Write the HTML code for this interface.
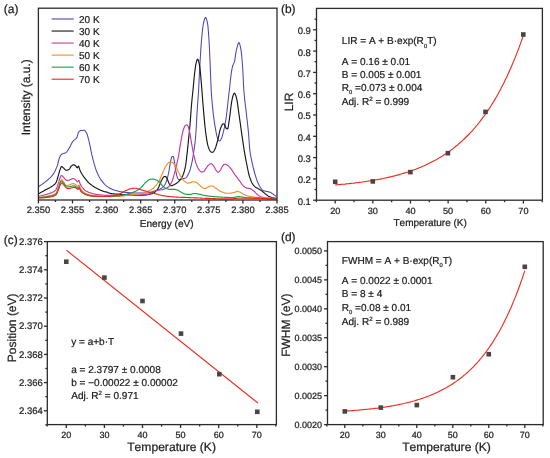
<!DOCTYPE html>
<html lang="en"><head><meta charset="utf-8"><title>Figure</title>
<style>
html,body{margin:0;padding:0;background:#fff;}
body{width:550px;height:458px;overflow:hidden;}
svg{display:block;}
svg text{font-family:"Liberation Sans", Arial, sans-serif;fill:#1c1c1c;text-rendering:geometricPrecision;font-kerning:none;stroke:#1c1c1c;stroke-width:0.22px;}
</style></head><body>
<svg width="550" height="458" viewBox="0 0 550 458">
<rect x="0" y="0" width="550" height="458" fill="#ffffff"/>
<g id="pa">
<clipPath id="ca"><rect x="38.4" y="8.2" width="238.6" height="191.8"/></clipPath>
<g clip-path="url(#ca)">
<polyline points="38.4,186.7 38.8,186.5 39.2,186.2 39.6,186.0 40.0,185.7 40.4,185.5 40.8,185.2 41.2,184.9 41.6,184.7 42.0,184.4 42.4,184.1 42.8,183.8 43.2,183.5 43.6,183.2 44.0,182.9 44.4,182.6 44.8,182.3 45.2,182.0 45.6,181.6 46.0,181.3 46.4,181.0 46.8,180.6 47.2,180.3 47.6,180.0 48.0,179.6 48.4,179.3 48.8,179.0 49.2,178.6 49.6,178.2 50.0,177.9 50.4,177.5 50.8,177.1 51.2,176.6 51.6,176.2 52.0,175.7 52.4,175.2 52.8,174.7 53.2,174.2 53.6,173.6 54.0,172.9 54.4,172.2 54.8,171.5 55.2,170.7 55.6,169.8 56.0,168.9 56.4,168.0 56.8,167.0 57.2,165.9 57.6,164.6 58.0,163.1 58.4,161.5 58.8,160.0 59.2,158.5 59.6,157.4 60.0,156.6 60.4,155.8 60.8,155.2 61.2,154.6 61.6,154.3 62.0,154.0 62.4,153.9 62.8,153.7 63.2,153.6 63.6,153.5 64.0,153.4 64.4,153.3 64.8,153.2 65.2,153.0 65.6,152.9 66.0,152.6 66.4,152.2 66.8,151.8 67.2,151.2 67.6,150.6 68.0,150.0 68.4,149.3 68.8,148.7 69.2,148.0 69.6,147.4 70.0,146.6 70.4,145.9 70.8,145.1 71.2,144.3 71.6,143.5 72.0,142.8 72.4,142.1 72.8,141.5 73.2,141.0 73.6,140.6 74.0,140.2 74.4,139.9 74.8,139.6 75.2,139.4 75.6,139.1 76.0,138.7 76.4,138.2 76.8,137.7 77.2,136.7 77.6,135.2 78.0,133.6 78.4,132.4 78.8,131.9 79.2,131.5 79.6,131.2 80.0,130.9 80.4,130.7 80.8,130.6 81.2,130.5 81.6,130.5 82.0,130.4 82.4,130.4 82.8,130.3 83.2,130.3 83.6,130.3 84.0,130.3 84.4,130.3 84.8,130.5 85.2,130.9 85.6,131.5 86.0,132.1 86.4,132.8 86.8,133.5 87.2,134.5 87.6,135.8 88.0,137.3 88.4,138.8 88.8,140.5 89.2,142.1 89.6,143.8 90.0,145.7 90.4,147.6 90.8,149.6 91.2,151.6 91.6,153.6 92.0,155.4 92.4,157.0 92.8,158.6 93.2,160.2 93.6,161.7 94.0,163.2 94.4,164.7 94.8,166.0 95.2,167.3 95.6,168.5 96.0,169.7 96.4,170.7 96.8,171.7 97.2,172.7 97.6,173.6 98.0,174.5 98.4,175.3 98.8,176.1 99.2,176.9 99.6,177.6 100.0,178.3 100.4,179.0 100.8,179.6 101.2,180.2 101.6,180.7 102.0,181.2 102.4,181.7 102.8,182.2 103.2,182.7 103.6,183.2 104.0,183.6 104.4,184.0 104.8,184.5 105.2,184.9 105.6,185.2 106.0,185.6 106.4,185.9 106.8,186.3 107.2,186.6 107.6,186.8 108.0,187.1 108.4,187.4 108.8,187.6 109.2,187.8 109.6,188.0 110.0,188.3 110.4,188.5 110.8,188.7 111.2,188.8 111.6,189.0 112.0,189.2 112.4,189.4 112.8,189.5 113.2,189.7 113.6,189.8 114.0,190.0 114.4,190.1 114.8,190.3 115.2,190.4 115.6,190.5 116.0,190.6 116.4,190.7 116.8,190.8 117.2,190.9 117.6,191.0 118.0,191.1 118.4,191.2 118.8,191.3 119.2,191.4 119.6,191.5 120.0,191.6 120.4,191.7 120.8,191.8 121.2,191.8 121.6,191.9 122.0,192.0 122.4,192.1 122.8,192.1 123.2,192.2 123.6,192.2 124.0,192.3 124.4,192.3 124.8,192.3 125.2,192.4 125.6,192.4 126.0,192.4 126.4,192.5 126.8,192.5 127.2,192.6 127.6,192.6 128.0,192.6 128.4,192.6 128.8,192.7 129.2,192.7 129.6,192.7 130.0,192.8 130.4,192.8 130.8,192.8 131.2,192.8 131.6,192.9 132.0,192.9 132.4,192.9 132.8,192.9 133.2,192.9 133.6,193.0 134.0,193.0 134.4,193.0 134.8,193.0 135.2,193.0 135.6,193.0 136.0,193.0 136.4,193.0 136.8,193.0 137.2,193.0 137.6,193.0 138.0,193.0 138.4,193.0 138.8,193.0 139.2,193.0 139.6,193.0 140.0,193.0 140.4,193.0 140.8,193.0 141.2,193.0 141.6,193.0 142.0,193.0 142.4,193.0 142.8,193.0 143.2,193.0 143.6,193.0 144.0,193.0 144.4,193.0 144.8,193.0 145.2,193.0 145.6,193.0 146.0,193.0 146.4,193.0 146.8,193.0 147.2,192.9 147.6,192.9 148.0,192.8 148.4,192.8 148.8,192.7 149.2,192.6 149.6,192.5 150.0,192.4 150.4,192.3 150.8,192.2 151.2,192.0 151.6,191.9 152.0,191.8 152.4,191.7 152.8,191.6 153.2,191.4 153.6,191.3 154.0,191.2 154.4,191.1 154.8,191.0 155.2,190.9 155.6,190.8 156.0,190.6 156.4,190.5 156.8,190.4 157.2,190.2 157.6,190.1 158.0,190.0 158.4,189.8 158.8,189.6 159.2,189.5 159.6,189.3 160.0,189.1 160.4,188.9 160.8,188.7 161.2,188.4 161.6,188.2 162.0,187.9 162.4,187.6 162.8,187.2 163.2,186.8 163.6,186.4 164.0,185.9 164.4,185.3 164.8,184.7 165.2,184.0 165.6,183.3 166.0,182.4 166.4,181.3 166.8,180.1 167.2,178.7 167.6,177.2 168.0,175.5 168.4,173.8 168.8,172.0 169.2,169.8 169.6,167.2 170.0,164.5 170.4,162.1 170.8,160.3 171.2,158.6 171.6,157.2 172.0,156.4 172.4,156.4 172.8,156.4 173.2,156.5 173.6,157.2 174.0,159.2 174.4,161.4 174.8,164.3 175.2,167.2 175.6,169.8 176.0,171.9 176.4,173.9 176.8,175.7 177.2,177.0 177.6,177.9 178.0,178.7 178.4,179.3 178.8,179.6 179.2,179.7 179.6,179.6 180.0,179.5 180.4,179.4 180.8,179.2 181.2,179.1 181.6,179.0 182.0,178.9 182.4,178.8 182.8,178.7 183.2,178.6 183.6,178.5 184.0,178.5 184.4,178.4 184.8,178.2 185.2,178.1 185.6,177.9 186.0,177.7 186.4,177.4 186.8,176.9 187.2,176.3 187.6,175.6 188.0,174.8 188.4,174.0 188.8,173.2 189.2,172.3 189.6,171.2 190.0,170.0 190.4,168.7 190.8,167.2 191.2,165.6 191.6,163.9 192.0,162.1 192.4,160.1 192.8,157.8 193.2,155.4 193.6,152.8 194.0,150.1 194.4,147.4 194.8,144.4 195.2,141.0 195.6,136.9 196.0,131.2 196.4,124.3 196.8,117.1 197.2,110.4 197.6,104.6 198.0,99.1 198.4,93.2 198.8,86.4 199.2,78.1 199.6,70.0 200.0,63.0 200.4,56.3 200.8,49.9 201.2,44.1 201.6,39.2 202.0,35.0 202.4,31.1 202.8,27.6 203.2,24.7 203.6,22.5 204.0,20.9 204.4,19.5 204.8,18.3 205.2,17.6 205.6,17.4 206.0,17.8 206.4,18.8 206.8,20.1 207.2,21.7 207.6,23.6 208.0,26.9 208.4,31.7 208.8,37.5 209.2,43.7 209.6,51.8 210.0,61.1 210.4,70.6 210.8,81.1 211.2,90.0 211.6,96.1 212.0,101.2 212.4,105.6 212.8,109.5 213.2,113.1 213.6,116.4 214.0,119.4 214.4,122.2 214.8,124.8 215.2,127.1 215.6,129.4 216.0,131.7 216.4,133.8 216.8,135.7 217.2,137.3 217.6,138.5 218.0,139.3 218.4,139.9 218.8,140.5 219.2,140.9 219.6,141.1 220.0,141.0 220.4,140.5 220.8,139.8 221.2,138.9 221.6,138.0 222.0,137.0 222.4,135.7 222.8,134.3 223.2,132.7 223.6,131.0 224.0,129.3 224.4,127.5 224.8,125.5 225.2,123.4 225.6,121.1 226.0,118.7 226.4,116.0 226.8,112.8 227.2,109.3 227.6,105.5 228.0,101.8 228.4,98.3 228.8,94.9 229.2,91.5 229.6,88.0 230.0,84.0 230.4,80.0 230.8,76.8 231.2,73.9 231.6,71.2 232.0,68.9 232.4,67.0 232.8,65.6 233.2,64.6 233.6,63.8 234.0,62.9 234.4,61.9 234.8,60.2 235.2,57.4 235.6,54.4 236.0,52.2 236.4,50.2 236.8,48.4 237.2,46.9 237.6,45.5 238.0,44.2 238.4,43.1 238.8,42.5 239.2,42.7 239.6,43.6 240.0,45.0 240.4,46.8 240.8,48.7 241.2,51.4 241.6,54.9 242.0,59.3 242.4,64.2 242.8,69.7 243.2,78.0 243.6,86.7 244.0,92.5 244.4,96.8 244.8,100.5 245.2,103.8 245.6,107.0 246.0,110.4 246.4,113.9 246.8,117.3 247.2,120.7 247.6,124.2 248.0,127.9 248.4,132.0 248.8,137.2 249.2,142.8 249.6,147.9 250.0,151.5 250.4,154.2 250.8,156.5 251.2,158.5 251.6,160.3 252.0,162.1 252.4,163.9 252.8,165.7 253.2,167.4 253.6,169.0 254.0,170.5 254.4,172.0 254.8,173.5 255.2,174.8 255.6,176.2 256.0,177.5 256.4,178.7 256.8,179.9 257.2,181.0 257.6,182.0 258.0,182.9 258.4,183.8 258.8,184.6 259.2,185.4 259.6,186.1 260.0,186.8 260.4,187.4 260.8,188.0 261.2,188.5 261.6,189.0 262.0,189.5 262.4,189.9 262.8,190.2 263.2,190.4 263.6,190.6 264.0,190.8 264.4,190.9 264.8,191.0 265.2,191.1 265.6,191.2 266.0,191.3 266.4,191.4 266.8,191.5 267.2,191.6 267.6,191.6 268.0,191.7 268.4,191.8 268.8,191.9 269.2,191.9 269.6,192.0 270.0,192.2 270.4,192.3 270.8,192.5 271.2,192.8 271.6,193.1 272.0,193.3 272.4,193.6 272.8,193.9 273.2,194.2 273.6,194.5 274.0,194.8 274.4,195.1 274.8,195.4 275.2,195.7 275.6,196.0 276.0,196.4 276.4,196.7" fill="none" stroke="#4b43b8" stroke-width="1.05" stroke-linejoin="round"/>
<polyline points="38.4,193.9 38.8,193.7 39.2,193.4 39.6,193.2 40.0,193.0 40.4,192.8 40.8,192.5 41.2,192.3 41.6,192.1 42.0,191.9 42.4,191.6 42.8,191.4 43.2,191.2 43.6,190.9 44.0,190.7 44.4,190.5 44.8,190.3 45.2,190.1 45.6,189.8 46.0,189.6 46.4,189.4 46.8,189.2 47.2,189.0 47.6,188.8 48.0,188.6 48.4,188.4 48.8,188.2 49.2,187.9 49.6,187.7 50.0,187.4 50.4,187.2 50.8,186.9 51.2,186.7 51.6,186.4 52.0,186.2 52.4,185.9 52.8,185.7 53.2,185.4 53.6,185.1 54.0,184.8 54.4,184.5 54.8,184.1 55.2,183.6 55.6,183.2 56.0,182.6 56.4,181.7 56.8,180.6 57.2,179.4 57.6,178.0 58.0,176.6 58.4,175.3 58.8,173.9 59.2,172.5 59.6,171.0 60.0,169.7 60.4,168.7 60.8,167.6 61.2,166.8 61.6,166.6 62.0,166.7 62.4,167.0 62.8,167.3 63.2,167.7 63.6,168.0 64.0,168.4 64.4,168.8 64.8,169.3 65.2,169.7 65.6,170.1 66.0,170.3 66.4,170.3 66.8,170.2 67.2,170.2 67.6,170.0 68.0,169.9 68.4,169.7 68.8,169.4 69.2,169.2 69.6,168.8 70.0,168.2 70.4,167.4 70.8,166.7 71.2,166.2 71.6,165.9 72.0,165.5 72.4,165.2 72.8,165.0 73.2,164.9 73.6,164.8 74.0,164.9 74.4,165.0 74.8,165.2 75.2,165.5 75.6,165.8 76.0,166.2 76.4,166.9 76.8,167.6 77.2,167.9 77.6,167.5 78.0,166.7 78.4,166.1 78.8,166.5 79.2,167.8 79.6,169.2 80.0,170.2 80.4,171.1 80.8,172.0 81.2,172.7 81.6,173.5 82.0,174.2 82.4,174.8 82.8,175.4 83.2,176.0 83.6,176.6 84.0,177.1 84.4,177.6 84.8,178.1 85.2,178.6 85.6,179.1 86.0,179.6 86.4,180.1 86.8,180.6 87.2,181.1 87.6,181.6 88.0,182.0 88.4,182.4 88.8,182.8 89.2,183.2 89.6,183.5 90.0,183.9 90.4,184.2 90.8,184.5 91.2,184.8 91.6,185.1 92.0,185.4 92.4,185.7 92.8,185.9 93.2,186.2 93.6,186.4 94.0,186.7 94.4,187.0 94.8,187.2 95.2,187.4 95.6,187.7 96.0,187.9 96.4,188.1 96.8,188.3 97.2,188.6 97.6,188.8 98.0,189.0 98.4,189.2 98.8,189.4 99.2,189.5 99.6,189.7 100.0,189.9 100.4,190.1 100.8,190.3 101.2,190.5 101.6,190.6 102.0,190.8 102.4,191.0 102.8,191.1 103.2,191.3 103.6,191.4 104.0,191.5 104.4,191.7 104.8,191.7 105.2,191.8 105.6,191.9 106.0,191.9 106.4,192.0 106.8,192.1 107.2,192.2 107.6,192.3 108.0,192.5 108.4,192.9 108.8,193.0 109.2,193.1 109.6,193.2 110.0,193.3 110.4,193.4 110.8,193.5 111.2,193.6 111.6,193.6 112.0,193.7 112.4,193.7 112.8,193.8 113.2,193.8 113.6,193.9 114.0,193.9 114.4,193.9 114.8,194.0 115.2,194.0 115.6,194.0 116.0,194.0 116.4,194.1 116.8,194.1 117.2,194.1 117.6,194.1 118.0,194.2 118.4,194.2 118.8,194.2 119.2,194.2 119.6,194.3 120.0,194.3 120.4,194.3 120.8,194.3 121.2,194.4 121.6,194.4 122.0,194.4 122.4,194.5 122.8,194.5 123.2,194.5 123.6,194.5 124.0,194.6 124.4,194.6 124.8,194.6 125.2,194.7 125.6,194.7 126.0,194.7 126.4,194.7 126.8,194.8 127.2,194.8 127.6,194.8 128.0,194.9 128.4,194.9 128.8,194.9 129.2,194.9 129.6,195.0 130.0,195.0 130.4,195.0 130.8,195.0 131.2,195.0 131.6,195.1 132.0,195.1 132.4,195.1 132.8,195.1 133.2,195.1 133.6,195.2 134.0,195.2 134.4,195.2 134.8,195.2 135.2,195.2 135.6,195.2 136.0,195.2 136.4,195.3 136.8,195.3 137.2,195.3 137.6,195.3 138.0,195.3 138.4,195.3 138.8,195.3 139.2,195.3 139.6,195.3 140.0,195.3 140.4,195.3 140.8,195.3 141.2,195.3 141.6,195.3 142.0,195.2 142.4,195.2 142.8,195.2 143.2,195.2 143.6,195.1 144.0,195.1 144.4,195.1 144.8,195.0 145.2,195.0 145.6,194.9 146.0,194.9 146.4,194.8 146.8,194.8 147.2,194.7 147.6,194.6 148.0,194.6 148.4,194.5 148.8,194.4 149.2,194.4 149.6,194.3 150.0,194.2 150.4,194.1 150.8,194.0 151.2,193.9 151.6,193.8 152.0,193.7 152.4,193.6 152.8,193.5 153.2,193.3 153.6,193.1 154.0,192.8 154.4,192.5 154.8,192.2 155.2,191.8 155.6,191.4 156.0,191.0 156.4,190.6 156.8,190.1 157.2,189.6 157.6,189.1 158.0,188.6 158.4,187.8 158.8,187.0 159.2,186.0 159.6,185.0 160.0,184.0 160.4,183.0 160.8,182.0 161.2,181.1 161.6,180.3 162.0,179.6 162.4,178.8 162.8,178.1 163.2,177.5 163.6,177.0 164.0,176.7 164.4,176.6 164.8,176.5 165.2,176.4 165.6,176.5 166.0,176.9 166.4,177.5 166.8,178.2 167.2,178.9 167.6,179.7 168.0,180.7 168.4,181.8 168.8,182.8 169.2,183.7 169.6,184.3 170.0,184.9 170.4,185.3 170.8,185.6 171.2,185.7 171.6,185.7 172.0,185.6 172.4,185.5 172.8,185.3 173.2,185.1 173.6,184.9 174.0,184.7 174.4,184.5 174.8,184.3 175.2,184.1 175.6,183.9 176.0,183.6 176.4,183.4 176.8,183.1 177.2,182.8 177.6,182.4 178.0,182.1 178.4,181.7 178.8,181.4 179.2,180.9 179.6,180.5 180.0,180.1 180.4,179.6 180.8,179.1 181.2,178.5 181.6,177.9 182.0,177.1 182.4,176.4 182.8,175.5 183.2,174.5 183.6,173.5 184.0,172.3 184.4,170.9 184.8,169.3 185.2,167.5 185.6,165.5 186.0,162.8 186.4,159.6 186.8,156.1 187.2,152.6 187.6,148.9 188.0,145.0 188.4,141.0 188.8,137.1 189.2,133.2 189.6,129.2 190.0,124.7 190.4,119.5 190.8,114.1 191.2,108.7 191.6,103.7 192.0,99.5 192.4,95.7 192.8,92.0 193.2,87.9 193.6,83.5 194.0,79.1 194.4,75.2 194.8,71.8 195.2,68.6 195.6,65.7 196.0,63.6 196.4,62.1 196.8,60.8 197.2,59.7 197.6,59.2 198.0,59.4 198.4,60.3 198.8,61.8 199.2,63.6 199.6,65.7 200.0,68.3 200.4,72.2 200.8,76.9 201.2,81.4 201.6,86.3 202.0,91.3 202.4,96.5 202.8,101.8 203.2,106.8 203.6,111.4 204.0,115.9 204.4,120.3 204.8,124.5 205.2,128.3 205.6,131.7 206.0,134.7 206.4,137.4 206.8,140.0 207.2,142.3 207.6,144.3 208.0,145.9 208.4,147.2 208.8,148.3 209.2,149.3 209.6,150.2 210.0,150.9 210.4,151.4 210.8,151.7 211.2,152.0 211.6,152.2 212.0,152.3 212.4,152.4 212.8,152.3 213.2,152.0 213.6,151.5 214.0,150.9 214.4,150.2 214.8,149.4 215.2,148.6 215.6,147.6 216.0,146.4 216.4,145.0 216.8,143.6 217.2,142.1 217.6,140.7 218.0,139.2 218.4,137.4 218.8,135.6 219.2,133.7 219.6,131.9 220.0,130.2 220.4,128.8 220.8,127.7 221.2,126.8 221.6,125.9 222.0,125.1 222.4,124.4 222.8,124.0 223.2,123.8 223.6,123.9 224.0,124.1 224.4,124.3 224.8,124.9 225.2,126.0 225.6,127.1 226.0,128.1 226.4,128.6 226.8,128.8 227.2,128.9 227.6,129.0 228.0,128.2 228.4,126.2 228.8,123.4 229.2,120.4 229.6,117.6 230.0,114.7 230.4,111.4 230.8,108.0 231.2,104.8 231.6,102.1 232.0,100.0 232.4,98.1 232.8,96.5 233.2,95.2 233.6,94.3 234.0,93.5 234.4,93.2 234.8,93.4 235.2,94.1 235.6,95.1 236.0,96.3 236.4,97.6 236.8,99.1 237.2,101.3 237.6,104.0 238.0,106.9 238.4,110.0 238.8,112.9 239.2,115.7 239.6,118.5 240.0,121.3 240.4,124.2 240.8,127.1 241.2,130.0 241.6,132.8 242.0,135.6 242.4,138.4 242.8,141.1 243.2,143.9 243.6,146.6 244.0,149.2 244.4,151.6 244.8,153.9 245.2,156.2 245.6,158.4 246.0,160.5 246.4,162.5 246.8,164.5 247.2,166.5 247.6,168.5 248.0,170.5 248.4,172.3 248.8,174.0 249.2,175.6 249.6,176.9 250.0,178.1 250.4,179.3 250.8,180.3 251.2,181.3 251.6,182.2 252.0,183.0 252.4,183.6 252.8,184.3 253.2,184.8 253.6,185.4 254.0,185.8 254.4,186.2 254.8,186.6 255.2,186.9 255.6,187.2 256.0,187.5 256.4,187.7 256.8,187.9 257.2,188.1 257.6,188.3 258.0,188.5 258.4,188.8 258.8,189.0 259.2,189.2 259.6,189.5 260.0,189.7 260.4,189.9 260.8,190.2 261.2,190.5 261.6,190.7 262.0,191.0 262.4,191.3 262.8,191.7 263.2,192.0 263.6,192.3 264.0,192.7 264.4,193.0 264.8,193.4 265.2,193.7 265.6,194.0 266.0,194.4 266.4,194.7 266.8,195.0 267.2,195.3 267.6,195.6 268.0,195.9 268.4,196.2 268.8,196.4 269.2,196.6 269.6,196.8 270.0,196.9 270.4,197.1 270.8,197.3 271.2,197.4 271.6,197.5 272.0,197.7 272.4,197.8 272.8,197.8 273.2,197.9 273.6,198.0 274.0,198.0 274.4,198.1 274.8,198.1 275.2,198.1 275.6,198.2 276.0,198.2 276.4,198.2" fill="none" stroke="#161616" stroke-width="1.15" stroke-linejoin="round"/>
<polyline points="38.4,196.4 38.8,196.3 39.2,196.2 39.6,196.1 40.0,196.0 40.4,196.0 40.8,195.9 41.2,195.8 41.6,195.7 42.0,195.6 42.4,195.5 42.8,195.4 43.2,195.3 43.6,195.2 44.0,195.0 44.4,194.9 44.8,194.8 45.2,194.7 45.6,194.6 46.0,194.5 46.4,194.4 46.8,194.3 47.2,194.2 47.6,194.0 48.0,193.9 48.4,193.8 48.8,193.7 49.2,193.6 49.6,193.4 50.0,193.3 50.4,193.2 50.8,193.0 51.2,192.8 51.6,192.7 52.0,192.5 52.4,192.3 52.8,192.1 53.2,191.9 53.6,191.7 54.0,191.5 54.4,191.2 54.8,190.9 55.2,190.5 55.6,190.1 56.0,189.6 56.4,188.9 56.8,187.8 57.2,186.6 57.6,185.4 58.0,184.1 58.4,182.9 58.8,181.7 59.2,180.3 59.6,179.0 60.0,177.9 60.4,177.0 60.8,176.2 61.2,175.7 61.6,175.5 62.0,175.7 62.4,176.0 62.8,176.4 63.2,176.9 63.6,177.3 64.0,177.7 64.4,178.3 64.8,178.8 65.2,179.4 65.6,179.8 66.0,180.2 66.4,180.4 66.8,180.4 67.2,180.4 67.6,180.3 68.0,180.3 68.4,180.2 68.8,180.2 69.2,180.1 69.6,180.0 70.0,179.8 70.4,179.6 70.8,179.4 71.2,179.2 71.6,178.9 72.0,178.7 72.4,178.6 72.8,178.5 73.2,178.5 73.6,178.6 74.0,178.8 74.4,179.0 74.8,179.3 75.2,179.6 75.6,179.9 76.0,180.2 76.4,180.7 76.8,181.3 77.2,181.8 77.6,181.9 78.0,181.3 78.4,180.6 78.8,180.4 79.2,181.1 79.6,182.2 80.0,183.5 80.4,184.4 80.8,185.1 81.2,185.8 81.6,186.5 82.0,187.1 82.4,187.6 82.8,188.0 83.2,188.5 83.6,188.9 84.0,189.3 84.4,189.7 84.8,190.1 85.2,190.4 85.6,190.7 86.0,191.0 86.4,191.2 86.8,191.4 87.2,191.6 87.6,191.8 88.0,192.0 88.4,192.2 88.8,192.4 89.2,192.5 89.6,192.7 90.0,192.8 90.4,193.0 90.8,193.1 91.2,193.2 91.6,193.3 92.0,193.4 92.4,193.5 92.8,193.6 93.2,193.7 93.6,193.8 94.0,193.9 94.4,194.0 94.8,194.1 95.2,194.2 95.6,194.3 96.0,194.3 96.4,194.4 96.8,194.5 97.2,194.5 97.6,194.6 98.0,194.6 98.4,194.7 98.8,194.7 99.2,194.8 99.6,194.8 100.0,194.9 100.4,194.9 100.8,194.9 101.2,195.0 101.6,195.0 102.0,195.1 102.4,195.1 102.8,195.1 103.2,195.2 103.6,195.2 104.0,195.2 104.4,195.3 104.8,195.3 105.2,195.3 105.6,195.3 106.0,195.4 106.4,195.4 106.8,195.4 107.2,195.4 107.6,195.4 108.0,195.4 108.4,195.4 108.8,195.4 109.2,195.4 109.6,195.4 110.0,195.4 110.4,195.4 110.8,195.4 111.2,195.4 111.6,195.4 112.0,195.4 112.4,195.4 112.8,195.4 113.2,195.4 113.6,195.4 114.0,195.4 114.4,195.4 114.8,195.4 115.2,195.4 115.6,195.4 116.0,195.4 116.4,195.4 116.8,195.4 117.2,195.4 117.6,195.4 118.0,195.4 118.4,195.4 118.8,195.4 119.2,195.4 119.6,195.4 120.0,195.4 120.4,195.4 120.8,195.4 121.2,195.4 121.6,195.4 122.0,195.4 122.4,195.4 122.8,195.4 123.2,195.4 123.6,195.3 124.0,195.3 124.4,195.3 124.8,195.3 125.2,195.3 125.6,195.3 126.0,195.3 126.4,195.3 126.8,195.3 127.2,195.3 127.6,195.3 128.0,195.3 128.4,195.3 128.8,195.3 129.2,195.3 129.6,195.3 130.0,195.3 130.4,195.3 130.8,195.3 131.2,195.3 131.6,195.3 132.0,195.3 132.4,195.3 132.8,195.3 133.2,195.3 133.6,195.2 134.0,195.2 134.4,195.2 134.8,195.2 135.2,195.2 135.6,195.2 136.0,195.2 136.4,195.2 136.8,195.2 137.2,195.1 137.6,195.1 138.0,195.1 138.4,195.1 138.8,195.1 139.2,195.1 139.6,195.0 140.0,195.0 140.4,195.0 140.8,195.0 141.2,195.0 141.6,194.9 142.0,194.9 142.4,194.9 142.8,194.9 143.2,194.8 143.6,194.8 144.0,194.8 144.4,194.7 144.8,194.7 145.2,194.7 145.6,194.7 146.0,194.6 146.4,194.6 146.8,194.6 147.2,194.5 147.6,194.5 148.0,194.4 148.4,194.3 148.8,194.2 149.2,194.1 149.6,193.9 150.0,193.8 150.4,193.6 150.8,193.4 151.2,193.2 151.6,193.0 152.0,192.8 152.4,192.5 152.8,192.3 153.2,192.1 153.6,191.9 154.0,191.7 154.4,191.5 154.8,191.3 155.2,191.1 155.6,190.9 156.0,190.8 156.4,190.6 156.8,190.5 157.2,190.4 157.6,190.3 158.0,190.3 158.4,190.2 158.8,190.1 159.2,190.1 159.6,190.0 160.0,190.0 160.4,189.9 160.8,189.9 161.2,189.8 161.6,189.7 162.0,189.7 162.4,189.6 162.8,189.5 163.2,189.4 163.6,189.3 164.0,189.2 164.4,189.1 164.8,188.9 165.2,188.8 165.6,188.6 166.0,188.4 166.4,188.3 166.8,188.1 167.2,187.8 167.6,187.6 168.0,187.3 168.4,187.0 168.8,186.6 169.2,186.2 169.6,185.7 170.0,185.1 170.4,184.5 170.8,183.8 171.2,183.1 171.6,182.3 172.0,181.5 172.4,180.5 172.8,179.3 173.2,178.1 173.6,176.7 174.0,175.2 174.4,173.7 174.8,172.1 175.2,170.5 175.6,168.9 176.0,167.3 176.4,165.7 176.8,164.0 177.2,162.3 177.6,160.4 178.0,158.5 178.4,156.5 178.8,154.4 179.2,152.0 179.6,149.4 180.0,146.7 180.4,144.2 180.8,142.0 181.2,139.8 181.6,137.6 182.0,135.5 182.4,133.5 182.8,131.8 183.2,130.2 183.6,129.0 184.0,128.0 184.4,127.0 184.8,126.2 185.2,125.7 185.6,125.4 186.0,125.1 186.4,124.9 186.8,124.9 187.2,125.1 187.6,125.6 188.0,126.2 188.4,126.9 188.8,128.3 189.2,130.0 189.6,131.8 190.0,133.9 190.4,136.3 190.8,138.7 191.2,141.0 191.6,143.3 192.0,145.7 192.4,148.0 192.8,150.2 193.2,152.2 193.6,154.1 194.0,155.9 194.4,157.6 194.8,159.2 195.2,160.7 195.6,162.1 196.0,163.3 196.4,164.4 196.8,165.5 197.2,166.4 197.6,167.3 198.0,168.1 198.4,168.8 198.8,169.4 199.2,169.9 199.6,170.5 200.0,171.0 200.4,171.4 200.8,171.7 201.2,171.8 201.6,171.8 202.0,171.8 202.4,171.8 202.8,171.8 203.2,171.8 203.6,171.7 204.0,171.4 204.4,170.9 204.8,170.3 205.2,169.6 205.6,169.0 206.0,168.4 206.4,167.9 206.8,167.3 207.2,166.7 207.6,166.2 208.0,165.7 208.4,165.3 208.8,164.9 209.2,164.6 209.6,164.3 210.0,164.1 210.4,163.9 210.8,163.7 211.2,163.7 211.6,163.8 212.0,164.0 212.4,164.4 212.8,164.9 213.2,165.3 213.6,165.8 214.0,166.4 214.4,167.2 214.8,168.0 215.2,168.8 215.6,169.6 216.0,170.2 216.4,170.7 216.8,171.2 217.2,171.6 217.6,172.0 218.0,172.2 218.4,172.2 218.8,172.0 219.2,171.6 219.6,171.2 220.0,170.7 220.4,170.2 220.8,169.5 221.2,168.6 221.6,167.7 222.0,166.9 222.4,166.3 222.8,165.8 223.2,165.3 223.6,164.8 224.0,164.5 224.4,164.3 224.8,164.2 225.2,164.2 225.6,164.3 226.0,164.5 226.4,164.6 226.8,164.8 227.2,165.0 227.6,165.2 228.0,165.5 228.4,165.9 228.8,166.2 229.2,166.7 229.6,167.1 230.0,167.6 230.4,168.1 230.8,168.6 231.2,169.1 231.6,169.6 232.0,170.2 232.4,170.7 232.8,171.4 233.2,172.0 233.6,172.6 234.0,173.2 234.4,173.9 234.8,174.5 235.2,175.1 235.6,175.6 236.0,176.2 236.4,176.7 236.8,177.2 237.2,177.7 237.6,178.3 238.0,178.8 238.4,179.3 238.8,179.8 239.2,180.3 239.6,180.9 240.0,181.4 240.4,182.0 240.8,182.6 241.2,183.2 241.6,183.8 242.0,184.4 242.4,184.9 242.8,185.4 243.2,185.8 243.6,186.2 244.0,186.5 244.4,186.8 244.8,187.1 245.2,187.4 245.6,187.6 246.0,187.8 246.4,188.0 246.8,188.1 247.2,188.2 247.6,188.3 248.0,188.3 248.4,188.4 248.8,188.4 249.2,188.5 249.6,188.6 250.0,188.6 250.4,188.8 250.8,188.9 251.2,189.1 251.6,189.3 252.0,189.6 252.4,189.9 252.8,190.2 253.2,190.5 253.6,190.8 254.0,191.1 254.4,191.5 254.8,191.9 255.2,192.4 255.6,192.8 256.0,193.2 256.4,193.7 256.8,194.0 257.2,194.4 257.6,194.7 258.0,195.0 258.4,195.4 258.8,195.7 259.2,196.0 259.6,196.2 260.0,196.5 260.4,196.7 260.8,196.8 261.2,197.0 261.6,197.1 262.0,197.2 262.4,197.3 262.8,197.3 263.2,197.4 263.6,197.5 264.0,197.6 264.4,197.7 264.8,197.7 265.2,197.8 265.6,197.8 266.0,197.9 266.4,197.9 266.8,198.0 267.2,198.0 267.6,198.1 268.0,198.1 268.4,198.1 268.8,198.2 269.2,198.2 269.6,198.2 270.0,198.3 270.4,198.3 270.8,198.3 271.2,198.3 271.6,198.3 272.0,198.4 272.4,198.4 272.8,198.4 273.2,198.4 273.6,198.4 274.0,198.5 274.4,198.5 274.8,198.5 275.2,198.5 275.6,198.5 276.0,198.5 276.4,198.5" fill="none" stroke="#c43a9c" stroke-width="1.15" stroke-linejoin="round"/>
<polyline points="38.4,197.2 38.8,197.2 39.2,197.2 39.6,197.2 40.0,197.1 40.4,197.1 40.8,197.1 41.2,197.1 41.6,197.0 42.0,197.0 42.4,196.9 42.8,196.9 43.2,196.8 43.6,196.8 44.0,196.7 44.4,196.6 44.8,196.6 45.2,196.5 45.6,196.4 46.0,196.4 46.4,196.3 46.8,196.2 47.2,196.1 47.6,196.1 48.0,196.0 48.4,195.9 48.8,195.9 49.2,195.8 49.6,195.7 50.0,195.6 50.4,195.5 50.8,195.4 51.2,195.3 51.6,195.2 52.0,195.1 52.4,195.0 52.8,194.8 53.2,194.7 53.6,194.5 54.0,194.3 54.4,194.1 54.8,193.9 55.2,193.7 55.6,193.4 56.0,193.1 56.4,192.5 56.8,191.7 57.2,190.7 57.6,189.6 58.0,188.5 58.4,187.4 58.8,186.2 59.2,184.9 59.6,183.5 60.0,182.3 60.4,181.4 60.8,180.5 61.2,179.9 61.6,179.7 62.0,179.9 62.4,180.3 62.8,180.9 63.2,181.4 63.6,181.9 64.0,182.4 64.4,183.1 64.8,183.7 65.2,184.3 65.6,184.8 66.0,185.2 66.4,185.5 66.8,185.5 67.2,185.5 67.6,185.4 68.0,185.3 68.4,185.2 68.8,185.1 69.2,185.0 69.6,184.9 70.0,184.7 70.4,184.5 70.8,184.3 71.2,184.1 71.6,183.9 72.0,183.7 72.4,183.6 72.8,183.5 73.2,183.5 73.6,183.6 74.0,183.7 74.4,183.9 74.8,184.1 75.2,184.4 75.6,184.6 76.0,184.9 76.4,185.3 76.8,185.7 77.2,186.1 77.6,186.2 78.0,185.9 78.4,185.5 78.8,185.2 79.2,185.4 79.6,186.2 80.0,187.2 80.4,188.1 80.8,188.8 81.2,189.4 81.6,190.0 82.0,190.5 82.4,191.0 82.8,191.4 83.2,191.7 83.6,192.1 84.0,192.4 84.4,192.7 84.8,193.0 85.2,193.2 85.6,193.4 86.0,193.6 86.4,193.8 86.8,194.0 87.2,194.1 87.6,194.3 88.0,194.4 88.4,194.5 88.8,194.7 89.2,194.8 89.6,194.9 90.0,195.0 90.4,195.1 90.8,195.2 91.2,195.2 91.6,195.3 92.0,195.4 92.4,195.4 92.8,195.5 93.2,195.6 93.6,195.6 94.0,195.7 94.4,195.7 94.8,195.8 95.2,195.8 95.6,195.8 96.0,195.9 96.4,195.9 96.8,195.9 97.2,196.0 97.6,196.0 98.0,196.0 98.4,196.0 98.8,196.0 99.2,196.1 99.6,196.1 100.0,196.1 100.4,196.1 100.8,196.1 101.2,196.1 101.6,196.1 102.0,196.2 102.4,196.2 102.8,196.2 103.2,196.2 103.6,196.2 104.0,196.2 104.4,196.2 104.8,196.2 105.2,196.3 105.6,196.3 106.0,196.3 106.4,196.3 106.8,196.3 107.2,196.3 107.6,196.3 108.0,196.3 108.4,196.3 108.8,196.3 109.2,196.3 109.6,196.3 110.0,196.4 110.4,196.4 110.8,196.4 111.2,196.4 111.6,196.4 112.0,196.4 112.4,196.4 112.8,196.4 113.2,196.4 113.6,196.4 114.0,196.4 114.4,196.4 114.8,196.4 115.2,196.4 115.6,196.4 116.0,196.4 116.4,196.4 116.8,196.4 117.2,196.4 117.6,196.4 118.0,196.4 118.4,196.3 118.8,196.3 119.2,196.3 119.6,196.3 120.0,196.2 120.4,196.2 120.8,196.2 121.2,196.1 121.6,196.1 122.0,196.1 122.4,196.0 122.8,196.0 123.2,195.9 123.6,195.9 124.0,195.8 124.4,195.8 124.8,195.7 125.2,195.7 125.6,195.6 126.0,195.6 126.4,195.5 126.8,195.5 127.2,195.4 127.6,195.4 128.0,195.3 128.4,195.2 128.8,195.2 129.2,195.1 129.6,195.1 130.0,195.0 130.4,195.0 130.8,194.9 131.2,194.9 131.6,194.8 132.0,194.8 132.4,194.7 132.8,194.7 133.2,194.6 133.6,194.6 134.0,194.5 134.4,194.4 134.8,194.4 135.2,194.3 135.6,194.3 136.0,194.2 136.4,194.2 136.8,194.1 137.2,194.0 137.6,194.0 138.0,193.9 138.4,193.8 138.8,193.8 139.2,193.7 139.6,193.6 140.0,193.6 140.4,193.5 140.8,193.4 141.2,193.3 141.6,193.2 142.0,193.2 142.4,193.1 142.8,193.0 143.2,192.9 143.6,192.8 144.0,192.7 144.4,192.6 144.8,192.5 145.2,192.3 145.6,192.2 146.0,192.1 146.4,191.9 146.8,191.8 147.2,191.6 147.6,191.5 148.0,191.3 148.4,191.1 148.8,190.9 149.2,190.7 149.6,190.5 150.0,190.3 150.4,190.1 150.8,189.9 151.2,189.6 151.6,189.4 152.0,189.1 152.4,188.9 152.8,188.6 153.2,188.3 153.6,187.9 154.0,187.5 154.4,187.2 154.8,186.7 155.2,186.3 155.6,185.8 156.0,185.4 156.4,184.9 156.8,184.3 157.2,183.8 157.6,183.2 158.0,182.6 158.4,182.1 158.8,181.4 159.2,180.7 159.6,179.9 160.0,179.0 160.4,178.1 160.8,177.1 161.2,176.2 161.6,175.2 162.0,174.3 162.4,173.4 162.8,172.5 163.2,171.6 163.6,170.7 164.0,169.8 164.4,168.9 164.8,168.0 165.2,167.2 165.6,166.5 166.0,165.8 166.4,165.3 166.8,164.7 167.2,164.2 167.6,163.7 168.0,163.2 168.4,162.8 168.8,162.5 169.2,162.3 169.6,162.3 170.0,162.3 170.4,162.3 170.8,162.3 171.2,162.3 171.6,162.3 172.0,162.3 172.4,162.3 172.8,162.5 173.2,162.8 173.6,163.3 174.0,163.8 174.4,164.3 174.8,164.9 175.2,165.4 175.6,166.1 176.0,166.9 176.4,167.7 176.8,168.6 177.2,169.5 177.6,170.4 178.0,171.2 178.4,172.0 178.8,172.8 179.2,173.5 179.6,174.3 180.0,175.1 180.4,175.8 180.8,176.5 181.2,177.2 181.6,177.8 182.0,178.3 182.4,178.9 182.8,179.4 183.2,179.9 183.6,180.4 184.0,180.8 184.4,181.2 184.8,181.6 185.2,181.8 185.6,182.1 186.0,182.4 186.4,182.6 186.8,182.9 187.2,183.0 187.6,183.1 188.0,183.1 188.4,183.1 188.8,183.0 189.2,182.9 189.6,182.8 190.0,182.7 190.4,182.6 190.8,182.5 191.2,182.4 191.6,182.2 192.0,182.0 192.4,181.9 192.8,181.7 193.2,181.7 193.6,181.7 194.0,181.7 194.4,181.8 194.8,181.9 195.2,181.9 195.6,182.0 196.0,182.2 196.4,182.4 196.8,182.7 197.2,183.0 197.6,183.4 198.0,183.7 198.4,184.0 198.8,184.4 199.2,184.7 199.6,185.1 200.0,185.5 200.4,185.8 200.8,186.2 201.2,186.5 201.6,186.9 202.0,187.3 202.4,187.6 202.8,187.9 203.2,188.1 203.6,188.2 204.0,188.3 204.4,188.4 204.8,188.5 205.2,188.5 205.6,188.5 206.0,188.3 206.4,188.1 206.8,187.8 207.2,187.5 207.6,187.3 208.0,187.0 208.4,186.8 208.8,186.5 209.2,186.3 209.6,186.1 210.0,186.0 210.4,186.0 210.8,186.0 211.2,186.0 211.6,186.0 212.0,186.0 212.4,186.0 212.8,186.2 213.2,186.3 213.6,186.6 214.0,186.9 214.4,187.1 214.8,187.4 215.2,187.7 215.6,187.9 216.0,188.2 216.4,188.5 216.8,188.8 217.2,189.1 217.6,189.4 218.0,189.7 218.4,189.9 218.8,190.2 219.2,190.4 219.6,190.7 220.0,190.9 220.4,191.2 220.8,191.4 221.2,191.6 221.6,191.8 222.0,192.0 222.4,192.1 222.8,192.3 223.2,192.4 223.6,192.6 224.0,192.7 224.4,192.9 224.8,193.0 225.2,193.1 225.6,193.1 226.0,193.2 226.4,193.2 226.8,193.2 227.2,193.2 227.6,193.2 228.0,193.2 228.4,193.2 228.8,193.2 229.2,193.2 229.6,193.2 230.0,193.2 230.4,193.2 230.8,193.1 231.2,193.1 231.6,193.0 232.0,193.0 232.4,192.9 232.8,192.8 233.2,192.7 233.6,192.6 234.0,192.5 234.4,192.4 234.8,192.2 235.2,192.1 235.6,191.9 236.0,191.7 236.4,191.6 236.8,191.5 237.2,191.4 237.6,191.4 238.0,191.5 238.4,191.6 238.8,191.7 239.2,191.8 239.6,192.0 240.0,192.1 240.4,192.3 240.8,192.5 241.2,192.8 241.6,193.0 242.0,193.3 242.4,193.6 242.8,193.9 243.2,194.1 243.6,194.3 244.0,194.5 244.4,194.7 244.8,194.8 245.2,195.0 245.6,195.2 246.0,195.3 246.4,195.5 246.8,195.6 247.2,195.8 247.6,195.9 248.0,196.0 248.4,196.1 248.8,196.2 249.2,196.3 249.6,196.4 250.0,196.4 250.4,196.5 250.8,196.6 251.2,196.6 251.6,196.7 252.0,196.8 252.4,196.8 252.8,196.9 253.2,197.0 253.6,197.0 254.0,197.1 254.4,197.1 254.8,197.2 255.2,197.2 255.6,197.2 256.0,197.3 256.4,197.3 256.8,197.4 257.2,197.4 257.6,197.4 258.0,197.5 258.4,197.5 258.8,197.5 259.2,197.6 259.6,197.6 260.0,197.6 260.4,197.7 260.8,197.7 261.2,197.7 261.6,197.8 262.0,197.8 262.4,197.8 262.8,197.9 263.2,197.9 263.6,197.9 264.0,198.0 264.4,198.0 264.8,198.0 265.2,198.0 265.6,198.1 266.0,198.1 266.4,198.1 266.8,198.1 267.2,198.2 267.6,198.2 268.0,198.2 268.4,198.2 268.8,198.3 269.2,198.3 269.6,198.3 270.0,198.3 270.4,198.3 270.8,198.4 271.2,198.4 271.6,198.4 272.0,198.4 272.4,198.4 272.8,198.4 273.2,198.5 273.6,198.5 274.0,198.5 274.4,198.5 274.8,198.5 275.2,198.5 275.6,198.5 276.0,198.5 276.4,198.5" fill="none" stroke="#f98d1f" stroke-width="1.15" stroke-linejoin="round"/>
<polyline points="38.4,197.6 38.8,197.6 39.2,197.6 39.6,197.6 40.0,197.6 40.4,197.5 40.8,197.5 41.2,197.5 41.6,197.5 42.0,197.4 42.4,197.4 42.8,197.3 43.2,197.3 43.6,197.2 44.0,197.2 44.4,197.1 44.8,197.1 45.2,197.0 45.6,197.0 46.0,196.9 46.4,196.9 46.8,196.8 47.2,196.7 47.6,196.7 48.0,196.6 48.4,196.5 48.8,196.5 49.2,196.4 49.6,196.3 50.0,196.3 50.4,196.2 50.8,196.1 51.2,196.0 51.6,195.9 52.0,195.8 52.4,195.7 52.8,195.6 53.2,195.4 53.6,195.3 54.0,195.1 54.4,195.0 54.8,194.8 55.2,194.5 55.6,194.3 56.0,194.0 56.4,193.5 56.8,192.7 57.2,191.7 57.6,190.7 58.0,189.6 58.4,188.5 58.8,187.3 59.2,186.0 59.6,184.7 60.0,183.5 60.4,182.6 60.8,181.8 61.2,181.2 61.6,181.0 62.0,181.2 62.4,181.6 62.8,182.1 63.2,182.7 63.6,183.1 64.0,183.6 64.4,184.1 64.8,184.7 65.2,185.3 65.6,185.8 66.0,186.3 66.4,186.7 66.8,186.9 67.2,187.0 67.6,187.0 68.0,186.9 68.4,186.9 68.8,186.8 69.2,186.7 69.6,186.7 70.0,186.6 70.4,186.5 70.8,186.4 71.2,186.3 71.6,186.2 72.0,186.1 72.4,186.0 72.8,185.9 73.2,185.8 73.6,185.8 74.0,185.8 74.4,186.0 74.8,186.1 75.2,186.3 75.6,186.5 76.0,186.8 76.4,187.0 76.8,187.4 77.2,187.8 77.6,188.0 78.0,187.7 78.4,187.2 78.8,186.8 79.2,187.0 79.6,187.8 80.0,188.7 80.4,189.6 80.8,190.3 81.2,190.8 81.6,191.4 82.0,191.9 82.4,192.3 82.8,192.7 83.2,193.0 83.6,193.3 84.0,193.6 84.4,193.8 84.8,194.1 85.2,194.3 85.6,194.5 86.0,194.7 86.4,194.8 86.8,194.9 87.2,195.1 87.6,195.2 88.0,195.3 88.4,195.4 88.8,195.5 89.2,195.6 89.6,195.7 90.0,195.8 90.4,195.8 90.8,195.9 91.2,196.0 91.6,196.0 92.0,196.1 92.4,196.1 92.8,196.2 93.2,196.2 93.6,196.2 94.0,196.3 94.4,196.3 94.8,196.4 95.2,196.4 95.6,196.4 96.0,196.4 96.4,196.5 96.8,196.5 97.2,196.5 97.6,196.5 98.0,196.5 98.4,196.5 98.8,196.5 99.2,196.5 99.6,196.5 100.0,196.5 100.4,196.5 100.8,196.5 101.2,196.5 101.6,196.5 102.0,196.5 102.4,196.5 102.8,196.5 103.2,196.5 103.6,196.4 104.0,196.4 104.4,196.4 104.8,196.4 105.2,196.4 105.6,196.4 106.0,196.4 106.4,196.4 106.8,196.4 107.2,196.4 107.6,196.3 108.0,196.3 108.4,196.3 108.8,196.3 109.2,196.3 109.6,196.3 110.0,196.3 110.4,196.2 110.8,196.2 111.2,196.2 111.6,196.2 112.0,196.2 112.4,196.2 112.8,196.2 113.2,196.1 113.6,196.1 114.0,196.1 114.4,196.1 114.8,196.1 115.2,196.0 115.6,196.0 116.0,196.0 116.4,196.0 116.8,195.9 117.2,195.9 117.6,195.9 118.0,195.8 118.4,195.8 118.8,195.7 119.2,195.7 119.6,195.6 120.0,195.6 120.4,195.5 120.8,195.4 121.2,195.3 121.6,195.3 122.0,195.2 122.4,195.1 122.8,195.0 123.2,195.0 123.6,194.9 124.0,194.8 124.4,194.7 124.8,194.6 125.2,194.5 125.6,194.5 126.0,194.4 126.4,194.3 126.8,194.2 127.2,194.1 127.6,194.0 128.0,193.9 128.4,193.8 128.8,193.7 129.2,193.6 129.6,193.5 130.0,193.4 130.4,193.2 130.8,193.1 131.2,193.0 131.6,192.9 132.0,192.7 132.4,192.6 132.8,192.4 133.2,192.3 133.6,192.1 134.0,192.0 134.4,191.8 134.8,191.6 135.2,191.5 135.6,191.3 136.0,191.1 136.4,190.9 136.8,190.6 137.2,190.4 137.6,190.1 138.0,189.9 138.4,189.6 138.8,189.3 139.2,189.0 139.6,188.7 140.0,188.4 140.4,188.1 140.8,187.7 141.2,187.4 141.6,187.0 142.0,186.6 142.4,186.2 142.8,185.7 143.2,185.2 143.6,184.7 144.0,184.2 144.4,183.8 144.8,183.3 145.2,182.9 145.6,182.5 146.0,182.1 146.4,181.8 146.8,181.4 147.2,181.1 147.6,180.7 148.0,180.4 148.4,180.1 148.8,179.9 149.2,179.7 149.6,179.5 150.0,179.5 150.4,179.4 150.8,179.3 151.2,179.2 151.6,179.2 152.0,179.1 152.4,179.1 152.8,179.1 153.2,179.1 153.6,179.1 154.0,179.2 154.4,179.3 154.8,179.4 155.2,179.6 155.6,179.7 156.0,179.9 156.4,180.1 156.8,180.3 157.2,180.4 157.6,180.7 158.0,180.9 158.4,181.2 158.8,181.5 159.2,181.9 159.6,182.2 160.0,182.6 160.4,183.0 160.8,183.5 161.2,184.1 161.6,184.7 162.0,185.2 162.4,185.7 162.8,186.1 163.2,186.4 163.6,186.8 164.0,187.1 164.4,187.4 164.8,187.7 165.2,188.0 165.6,188.2 166.0,188.4 166.4,188.6 166.8,188.7 167.2,188.8 167.6,188.9 168.0,189.0 168.4,189.1 168.8,189.2 169.2,189.3 169.6,189.3 170.0,189.4 170.4,189.4 170.8,189.4 171.2,189.4 171.6,189.4 172.0,189.4 172.4,189.4 172.8,189.4 173.2,189.4 173.6,189.4 174.0,189.4 174.4,189.4 174.8,189.4 175.2,189.4 175.6,189.5 176.0,189.6 176.4,189.7 176.8,189.8 177.2,190.0 177.6,190.1 178.0,190.3 178.4,190.5 178.8,190.7 179.2,190.9 179.6,191.2 180.0,191.5 180.4,191.7 180.8,192.0 181.2,192.2 181.6,192.4 182.0,192.7 182.4,192.9 182.8,193.1 183.2,193.3 183.6,193.5 184.0,193.7 184.4,193.9 184.8,194.0 185.2,194.1 185.6,194.2 186.0,194.2 186.4,194.3 186.8,194.3 187.2,194.3 187.6,194.3 188.0,194.4 188.4,194.4 188.8,194.4 189.2,194.4 189.6,194.4 190.0,194.4 190.4,194.4 190.8,194.3 191.2,194.2 191.6,194.1 192.0,194.0 192.4,193.9 192.8,193.8 193.2,193.7 193.6,193.6 194.0,193.5 194.4,193.5 194.8,193.5 195.2,193.5 195.6,193.6 196.0,193.6 196.4,193.7 196.8,193.7 197.2,193.8 197.6,193.9 198.0,193.9 198.4,194.0 198.8,194.1 199.2,194.2 199.6,194.3 200.0,194.3 200.4,194.4 200.8,194.5 201.2,194.6 201.6,194.8 202.0,194.9 202.4,195.0 202.8,195.1 203.2,195.2 203.6,195.3 204.0,195.4 204.4,195.4 204.8,195.5 205.2,195.6 205.6,195.6 206.0,195.7 206.4,195.8 206.8,195.8 207.2,195.9 207.6,195.9 208.0,196.0 208.4,196.0 208.8,196.1 209.2,196.1 209.6,196.2 210.0,196.2 210.4,196.3 210.8,196.3 211.2,196.3 211.6,196.4 212.0,196.4 212.4,196.5 212.8,196.5 213.2,196.5 213.6,196.6 214.0,196.6 214.4,196.6 214.8,196.6 215.2,196.7 215.6,196.7 216.0,196.7 216.4,196.8 216.8,196.8 217.2,196.8 217.6,196.8 218.0,196.9 218.4,196.9 218.8,196.9 219.2,197.0 219.6,197.0 220.0,197.0 220.4,197.0 220.8,197.1 221.2,197.1 221.6,197.1 222.0,197.1 222.4,197.2 222.8,197.2 223.2,197.2 223.6,197.2 224.0,197.2 224.4,197.3 224.8,197.3 225.2,197.3 225.6,197.3 226.0,197.3 226.4,197.4 226.8,197.4 227.2,197.4 227.6,197.4 228.0,197.4 228.4,197.4 228.8,197.4 229.2,197.5 229.6,197.5 230.0,197.5 230.4,197.5 230.8,197.5 231.2,197.5 231.6,197.5 232.0,197.5 232.4,197.5 232.8,197.5 233.2,197.5 233.6,197.4 234.0,197.4 234.4,197.3 234.8,197.2 235.2,197.1 235.6,197.1 236.0,197.0 236.4,196.9 236.8,196.8 237.2,196.7 237.6,196.7 238.0,196.6 238.4,196.6 238.8,196.6 239.2,196.6 239.6,196.6 240.0,196.7 240.4,196.7 240.8,196.8 241.2,196.9 241.6,197.0 242.0,197.0 242.4,197.1 242.8,197.2 243.2,197.3 243.6,197.3 244.0,197.4 244.4,197.5 244.8,197.5 245.2,197.5 245.6,197.6 246.0,197.6 246.4,197.6 246.8,197.7 247.2,197.7 247.6,197.7 248.0,197.7 248.4,197.8 248.8,197.8 249.2,197.8 249.6,197.9 250.0,197.9 250.4,197.9 250.8,197.9 251.2,198.0 251.6,198.0 252.0,198.0 252.4,198.0 252.8,198.1 253.2,198.1 253.6,198.1 254.0,198.1 254.4,198.2 254.8,198.2 255.2,198.2 255.6,198.2 256.0,198.3 256.4,198.3 256.8,198.3 257.2,198.3 257.6,198.4 258.0,198.4 258.4,198.4 258.8,198.4 259.2,198.4 259.6,198.5 260.0,198.5 260.4,198.5 260.8,198.5 261.2,198.5 261.6,198.5 262.0,198.6 262.4,198.6 262.8,198.6 263.2,198.6 263.6,198.6 264.0,198.6 264.4,198.7 264.8,198.7 265.2,198.7 265.6,198.7 266.0,198.7 266.4,198.7 266.8,198.7 267.2,198.8 267.6,198.8 268.0,198.8 268.4,198.8 268.8,198.8 269.2,198.8 269.6,198.8 270.0,198.8 270.4,198.8 270.8,198.8 271.2,198.9 271.6,198.9 272.0,198.9 272.4,198.9 272.8,198.9 273.2,198.9 273.6,198.9 274.0,198.9 274.4,198.9 274.8,198.9 275.2,198.9 275.6,198.9 276.0,198.9 276.4,198.9" fill="none" stroke="#12a150" stroke-width="1.15" stroke-linejoin="round"/>
<polyline points="38.4,198.0 38.8,198.0 39.2,198.0 39.6,198.0 40.0,198.0 40.4,198.0 40.8,198.0 41.2,197.9 41.6,197.9 42.0,197.9 42.4,197.9 42.8,197.8 43.2,197.8 43.6,197.8 44.0,197.7 44.4,197.7 44.8,197.7 45.2,197.6 45.6,197.6 46.0,197.5 46.4,197.5 46.8,197.4 47.2,197.4 47.6,197.3 48.0,197.3 48.4,197.2 48.8,197.2 49.2,197.1 49.6,197.1 50.0,197.0 50.4,196.9 50.8,196.9 51.2,196.8 51.6,196.7 52.0,196.6 52.4,196.5 52.8,196.4 53.2,196.3 53.6,196.2 54.0,196.0 54.4,195.8 54.8,195.6 55.2,195.4 55.6,195.1 56.0,194.8 56.4,194.3 56.8,193.6 57.2,192.7 57.6,191.8 58.0,190.8 58.4,189.9 58.8,188.9 59.2,187.7 59.6,186.4 60.0,185.4 60.4,184.6 60.8,184.0 61.2,183.4 61.6,183.0 62.0,182.9 62.4,183.2 62.8,183.6 63.2,184.2 63.6,184.8 64.0,185.2 64.4,185.6 64.8,186.1 65.2,186.6 65.6,187.0 66.0,187.5 66.4,187.9 66.8,188.2 67.2,188.4 67.6,188.6 68.0,188.6 68.4,188.6 68.8,188.5 69.2,188.5 69.6,188.4 70.0,188.3 70.4,188.2 70.8,188.1 71.2,188.0 71.6,187.9 72.0,187.8 72.4,187.7 72.8,187.6 73.2,187.5 73.6,187.5 74.0,187.4 74.4,187.4 74.8,187.5 75.2,187.6 75.6,187.8 76.0,188.0 76.4,188.3 76.8,188.6 77.2,189.0 77.6,189.3 78.0,189.3 78.4,188.8 78.8,188.3 79.2,188.4 79.6,188.9 80.0,189.6 80.4,190.4 80.8,191.1 81.2,191.7 81.6,192.0 82.0,192.4 82.4,192.6 82.8,192.9 83.2,193.2 83.6,193.4 84.0,193.6 84.4,193.8 84.8,194.0 85.2,194.1 85.6,194.3 86.0,194.5 86.4,194.6 86.8,194.7 87.2,194.9 87.6,195.0 88.0,195.1 88.4,195.3 88.8,195.4 89.2,195.5 89.6,195.6 90.0,195.7 90.4,195.7 90.8,195.8 91.2,195.9 91.6,195.9 92.0,195.9 92.4,196.0 92.8,196.0 93.2,196.1 93.6,196.1 94.0,196.1 94.4,196.1 94.8,196.2 95.2,196.2 95.6,196.2 96.0,196.2 96.4,196.3 96.8,196.3 97.2,196.3 97.6,196.3 98.0,196.3 98.4,196.4 98.8,196.4 99.2,196.4 99.6,196.4 100.0,196.4 100.4,196.4 100.8,196.4 101.2,196.4 101.6,196.4 102.0,196.4 102.4,196.4 102.8,196.5 103.2,196.5 103.6,196.5 104.0,196.5 104.4,196.5 104.8,196.5 105.2,196.5 105.6,196.5 106.0,196.5 106.4,196.5 106.8,196.5 107.2,196.5 107.6,196.5 108.0,196.5 108.4,196.5 108.8,196.5 109.2,196.5 109.6,196.4 110.0,196.4 110.4,196.4 110.8,196.3 111.2,196.3 111.6,196.2 112.0,196.1 112.4,196.1 112.8,196.0 113.2,195.9 113.6,195.8 114.0,195.7 114.4,195.7 114.8,195.6 115.2,195.5 115.6,195.4 116.0,195.3 116.4,195.2 116.8,195.1 117.2,194.9 117.6,194.8 118.0,194.6 118.4,194.4 118.8,194.2 119.2,194.0 119.6,193.8 120.0,193.6 120.4,193.4 120.8,193.2 121.2,193.0 121.6,192.7 122.0,192.5 122.4,192.3 122.8,192.1 123.2,191.9 123.6,191.7 124.0,191.6 124.4,191.4 124.8,191.2 125.2,191.0 125.6,190.8 126.0,190.6 126.4,190.4 126.8,190.2 127.2,190.0 127.6,189.9 128.0,189.7 128.4,189.5 128.8,189.3 129.2,189.2 129.6,189.0 130.0,188.9 130.4,188.8 130.8,188.7 131.2,188.6 131.6,188.5 132.0,188.5 132.4,188.4 132.8,188.4 133.2,188.3 133.6,188.3 134.0,188.2 134.4,188.2 134.8,188.2 135.2,188.2 135.6,188.2 136.0,188.3 136.4,188.4 136.8,188.5 137.2,188.6 137.6,188.8 138.0,188.9 138.4,189.0 138.8,189.2 139.2,189.3 139.6,189.4 140.0,189.5 140.4,189.6 140.8,189.7 141.2,189.8 141.6,190.0 142.0,190.1 142.4,190.2 142.8,190.3 143.2,190.4 143.6,190.5 144.0,190.6 144.4,190.8 144.8,190.9 145.2,191.0 145.6,191.1 146.0,191.2 146.4,191.3 146.8,191.4 147.2,191.5 147.6,191.7 148.0,191.8 148.4,191.9 148.8,192.0 149.2,192.1 149.6,192.2 150.0,192.3 150.4,192.4 150.8,192.5 151.2,192.6 151.6,192.7 152.0,192.8 152.4,192.9 152.8,193.0 153.2,193.2 153.6,193.3 154.0,193.4 154.4,193.5 154.8,193.6 155.2,193.7 155.6,193.8 156.0,193.9 156.4,194.0 156.8,194.1 157.2,194.2 157.6,194.3 158.0,194.4 158.4,194.6 158.8,194.7 159.2,194.8 159.6,194.9 160.0,195.0 160.4,195.1 160.8,195.2 161.2,195.3 161.6,195.4 162.0,195.5 162.4,195.6 162.8,195.6 163.2,195.7 163.6,195.8 164.0,195.8 164.4,195.9 164.8,195.9 165.2,196.0 165.6,196.1 166.0,196.1 166.4,196.2 166.8,196.2 167.2,196.3 167.6,196.3 168.0,196.4 168.4,196.4 168.8,196.5 169.2,196.5 169.6,196.6 170.0,196.6 170.4,196.6 170.8,196.7 171.2,196.7 171.6,196.8 172.0,196.8 172.4,196.8 172.8,196.9 173.2,196.9 173.6,196.9 174.0,196.9 174.4,197.0 174.8,197.0 175.2,197.0 175.6,197.0 176.0,197.0 176.4,197.1 176.8,197.1 177.2,197.1 177.6,197.1 178.0,197.1 178.4,197.2 178.8,197.2 179.2,197.2 179.6,197.2 180.0,197.2 180.4,197.2 180.8,197.3 181.2,197.3 181.6,197.3 182.0,197.3 182.4,197.3 182.8,197.3 183.2,197.4 183.6,197.4 184.0,197.4 184.4,197.4 184.8,197.4 185.2,197.4 185.6,197.4 186.0,197.5 186.4,197.5 186.8,197.5 187.2,197.5 187.6,197.5 188.0,197.5 188.4,197.6 188.8,197.6 189.2,197.6 189.6,197.6 190.0,197.6 190.4,197.6 190.8,197.6 191.2,197.7 191.6,197.7 192.0,197.7 192.4,197.7 192.8,197.7 193.2,197.7 193.6,197.8 194.0,197.8 194.4,197.8 194.8,197.8 195.2,197.8 195.6,197.9 196.0,197.9 196.4,197.9 196.8,197.9 197.2,197.9 197.6,197.9 198.0,198.0 198.4,198.0 198.8,198.0 199.2,198.0 199.6,198.0 200.0,198.0 200.4,198.1 200.8,198.1 201.2,198.1 201.6,198.1 202.0,198.1 202.4,198.2 202.8,198.2 203.2,198.2 203.6,198.2 204.0,198.2 204.4,198.2 204.8,198.3 205.2,198.3 205.6,198.3 206.0,198.3 206.4,198.3 206.8,198.3 207.2,198.4 207.6,198.4 208.0,198.4 208.4,198.4 208.8,198.4 209.2,198.4 209.6,198.4 210.0,198.5 210.4,198.5 210.8,198.5 211.2,198.5 211.6,198.5 212.0,198.5 212.4,198.6 212.8,198.6 213.2,198.6 213.6,198.6 214.0,198.6 214.4,198.6 214.8,198.6 215.2,198.6 215.6,198.7 216.0,198.7 216.4,198.7 216.8,198.7 217.2,198.7 217.6,198.7 218.0,198.7 218.4,198.7 218.8,198.7 219.2,198.8 219.6,198.8 220.0,198.8 220.4,198.8 220.8,198.8 221.2,198.8 221.6,198.8 222.0,198.8 222.4,198.8 222.8,198.8 223.2,198.8 223.6,198.8 224.0,198.9 224.4,198.9 224.8,198.9 225.2,198.9 225.6,198.9 226.0,198.9 226.4,198.9 226.8,198.9 227.2,198.9 227.6,198.9 228.0,198.9 228.4,198.9 228.8,198.9 229.2,198.9 229.6,198.9 230.0,198.9 230.4,198.9 230.8,198.9 231.2,198.9 231.6,198.8 232.0,198.8 232.4,198.8 232.8,198.7 233.2,198.7 233.6,198.6 234.0,198.6 234.4,198.5 234.8,198.5 235.2,198.4 235.6,198.4 236.0,198.4 236.4,198.3 236.8,198.3 237.2,198.3 237.6,198.2 238.0,198.2 238.4,198.2 238.8,198.2 239.2,198.2 239.6,198.2 240.0,198.2 240.4,198.2 240.8,198.2 241.2,198.2 241.6,198.2 242.0,198.2 242.4,198.2 242.8,198.2 243.2,198.2 243.6,198.2 244.0,198.2 244.4,198.2 244.8,198.2 245.2,198.2 245.6,198.2 246.0,198.2 246.4,198.2 246.8,198.2 247.2,198.2 247.6,198.2 248.0,198.2 248.4,198.2 248.8,198.2 249.2,198.2 249.6,198.2 250.0,198.2 250.4,198.2 250.8,198.2 251.2,198.2 251.6,198.2 252.0,198.2 252.4,198.2 252.8,198.2 253.2,198.2 253.6,198.2 254.0,198.3 254.4,198.3 254.8,198.3 255.2,198.3 255.6,198.3 256.0,198.3 256.4,198.3 256.8,198.3 257.2,198.3 257.6,198.3 258.0,198.3 258.4,198.3 258.8,198.3 259.2,198.3 259.6,198.3 260.0,198.3 260.4,198.4 260.8,198.4 261.2,198.4 261.6,198.4 262.0,198.4 262.4,198.4 262.8,198.4 263.2,198.4 263.6,198.4 264.0,198.4 264.4,198.4 264.8,198.5 265.2,198.5 265.6,198.5 266.0,198.5 266.4,198.5 266.8,198.5 267.2,198.5 267.6,198.6 268.0,198.6 268.4,198.6 268.8,198.6 269.2,198.6 269.6,198.6 270.0,198.7 270.4,198.7 270.8,198.7 271.2,198.7 271.6,198.7 272.0,198.7 272.4,198.8 272.8,198.8 273.2,198.8 273.6,198.8 274.0,198.8 274.4,198.9 274.8,198.9 275.2,198.9 275.6,198.9 276.0,199.0 276.4,199.0" fill="none" stroke="#f0261c" stroke-width="1.15" stroke-linejoin="round"/>
</g>
<rect x="38.4" y="8.2" width="238.6" height="191.8" fill="none" stroke="#2b2b2b" stroke-width="1.3"/>
<line x1="38.40" y1="200.00" x2="38.40" y2="203.40" stroke="#2b2b2b" stroke-width="1.3"/>
<text x="38.4" y="213.0" font-size="9.35" text-anchor="middle">2.350</text>
<line x1="55.44" y1="200.00" x2="55.44" y2="202.00" stroke="#2b2b2b" stroke-width="1.3"/>
<line x1="72.49" y1="200.00" x2="72.49" y2="203.40" stroke="#2b2b2b" stroke-width="1.3"/>
<text x="72.5" y="213.0" font-size="9.35" text-anchor="middle">2.355</text>
<line x1="89.53" y1="200.00" x2="89.53" y2="202.00" stroke="#2b2b2b" stroke-width="1.3"/>
<line x1="106.57" y1="200.00" x2="106.57" y2="203.40" stroke="#2b2b2b" stroke-width="1.3"/>
<text x="106.6" y="213.0" font-size="9.35" text-anchor="middle">2.360</text>
<line x1="123.61" y1="200.00" x2="123.61" y2="202.00" stroke="#2b2b2b" stroke-width="1.3"/>
<line x1="140.66" y1="200.00" x2="140.66" y2="203.40" stroke="#2b2b2b" stroke-width="1.3"/>
<text x="140.7" y="213.0" font-size="9.35" text-anchor="middle">2.365</text>
<line x1="157.70" y1="200.00" x2="157.70" y2="202.00" stroke="#2b2b2b" stroke-width="1.3"/>
<line x1="174.74" y1="200.00" x2="174.74" y2="203.40" stroke="#2b2b2b" stroke-width="1.3"/>
<text x="174.7" y="213.0" font-size="9.35" text-anchor="middle">2.370</text>
<line x1="191.79" y1="200.00" x2="191.79" y2="202.00" stroke="#2b2b2b" stroke-width="1.3"/>
<line x1="208.83" y1="200.00" x2="208.83" y2="203.40" stroke="#2b2b2b" stroke-width="1.3"/>
<text x="208.8" y="213.0" font-size="9.35" text-anchor="middle">2.375</text>
<line x1="225.87" y1="200.00" x2="225.87" y2="202.00" stroke="#2b2b2b" stroke-width="1.3"/>
<line x1="242.91" y1="200.00" x2="242.91" y2="203.40" stroke="#2b2b2b" stroke-width="1.3"/>
<text x="242.9" y="213.0" font-size="9.35" text-anchor="middle">2.380</text>
<line x1="259.96" y1="200.00" x2="259.96" y2="202.00" stroke="#2b2b2b" stroke-width="1.3"/>
<line x1="277.00" y1="200.00" x2="277.00" y2="203.40" stroke="#2b2b2b" stroke-width="1.3"/>
<text x="277.0" y="213.0" font-size="9.35" text-anchor="middle">2.385</text>
<text x="166.7" y="226.5" font-size="10.1" text-anchor="middle">Energy (eV)</text>
<text x="30.5" y="97.2" font-size="12" text-anchor="middle" transform="rotate(-90 30.5 97.2)">Intensity (a.u.)</text>
<text x="3.8" y="13.0" font-size="12" text-anchor="start">(a)</text>
<line x1="51.60" y1="19.00" x2="73.70" y2="19.00" stroke="#4b43b8" stroke-width="1.1"/>
<text x="79.0" y="22.55" font-size="10" text-anchor="start">20 K</text>
<line x1="51.60" y1="31.04" x2="73.70" y2="31.04" stroke="#161616" stroke-width="1.1"/>
<text x="79.0" y="34.589999999999996" font-size="10" text-anchor="start">30 K</text>
<line x1="51.60" y1="43.08" x2="73.70" y2="43.08" stroke="#c43a9c" stroke-width="1.1"/>
<text x="79.0" y="46.629999999999995" font-size="10" text-anchor="start">40 K</text>
<line x1="51.60" y1="55.12" x2="73.70" y2="55.12" stroke="#f98d1f" stroke-width="1.1"/>
<text x="79.0" y="58.669999999999995" font-size="10" text-anchor="start">50 K</text>
<line x1="51.60" y1="67.16" x2="73.70" y2="67.16" stroke="#12a150" stroke-width="1.1"/>
<text x="79.0" y="70.71" font-size="10" text-anchor="start">60 K</text>
<line x1="51.60" y1="79.20" x2="73.70" y2="79.20" stroke="#f0261c" stroke-width="1.1"/>
<text x="79.0" y="82.74999999999999" font-size="10" text-anchor="start">70 K</text>
</g>
<g id="pb">
<rect x="316.5" y="8.4" width="225.89999999999998" height="191.79999999999998" fill="none" stroke="#2b2b2b" stroke-width="1.3"/>
<line x1="316.50" y1="200.20" x2="313.10" y2="200.20" stroke="#2b2b2b" stroke-width="1.3"/>
<text x="310.9" y="204.6" font-size="9.5" text-anchor="end">0.1</text>
<line x1="316.50" y1="189.55" x2="314.50" y2="189.55" stroke="#2b2b2b" stroke-width="1.3"/>
<line x1="316.50" y1="178.90" x2="313.10" y2="178.90" stroke="#2b2b2b" stroke-width="1.3"/>
<text x="310.9" y="183.3" font-size="9.5" text-anchor="end">0.2</text>
<line x1="316.50" y1="168.25" x2="314.50" y2="168.25" stroke="#2b2b2b" stroke-width="1.3"/>
<line x1="316.50" y1="157.60" x2="313.10" y2="157.60" stroke="#2b2b2b" stroke-width="1.3"/>
<text x="310.9" y="162.0" font-size="9.5" text-anchor="end">0.3</text>
<line x1="316.50" y1="146.95" x2="314.50" y2="146.95" stroke="#2b2b2b" stroke-width="1.3"/>
<line x1="316.50" y1="136.30" x2="313.10" y2="136.30" stroke="#2b2b2b" stroke-width="1.3"/>
<text x="310.9" y="140.7" font-size="9.5" text-anchor="end">0.4</text>
<line x1="316.50" y1="125.65" x2="314.50" y2="125.65" stroke="#2b2b2b" stroke-width="1.3"/>
<line x1="316.50" y1="115.00" x2="313.10" y2="115.00" stroke="#2b2b2b" stroke-width="1.3"/>
<text x="310.9" y="119.4" font-size="9.5" text-anchor="end">0.5</text>
<line x1="316.50" y1="104.35" x2="314.50" y2="104.35" stroke="#2b2b2b" stroke-width="1.3"/>
<line x1="316.50" y1="93.70" x2="313.10" y2="93.70" stroke="#2b2b2b" stroke-width="1.3"/>
<text x="310.9" y="98.1" font-size="9.5" text-anchor="end">0.6</text>
<line x1="316.50" y1="83.05" x2="314.50" y2="83.05" stroke="#2b2b2b" stroke-width="1.3"/>
<line x1="316.50" y1="72.40" x2="313.10" y2="72.40" stroke="#2b2b2b" stroke-width="1.3"/>
<text x="310.9" y="76.8" font-size="9.5" text-anchor="end">0.7</text>
<line x1="316.50" y1="61.75" x2="314.50" y2="61.75" stroke="#2b2b2b" stroke-width="1.3"/>
<line x1="316.50" y1="51.10" x2="313.10" y2="51.10" stroke="#2b2b2b" stroke-width="1.3"/>
<text x="310.9" y="55.5" font-size="9.5" text-anchor="end">0.8</text>
<line x1="316.50" y1="40.45" x2="314.50" y2="40.45" stroke="#2b2b2b" stroke-width="1.3"/>
<line x1="316.50" y1="29.80" x2="313.10" y2="29.80" stroke="#2b2b2b" stroke-width="1.3"/>
<text x="310.9" y="34.2" font-size="9.5" text-anchor="end">0.9</text>
<line x1="316.50" y1="19.15" x2="314.50" y2="19.15" stroke="#2b2b2b" stroke-width="1.3"/>
<line x1="316.38" y1="200.20" x2="316.38" y2="202.20" stroke="#2b2b2b" stroke-width="1.3"/>
<line x1="335.20" y1="200.20" x2="335.20" y2="203.60" stroke="#2b2b2b" stroke-width="1.3"/>
<text x="335.2" y="213.7" font-size="9.1" text-anchor="middle">20</text>
<line x1="354.02" y1="200.20" x2="354.02" y2="202.20" stroke="#2b2b2b" stroke-width="1.3"/>
<line x1="372.84" y1="200.20" x2="372.84" y2="203.60" stroke="#2b2b2b" stroke-width="1.3"/>
<text x="372.8" y="213.7" font-size="9.1" text-anchor="middle">30</text>
<line x1="391.66" y1="200.20" x2="391.66" y2="202.20" stroke="#2b2b2b" stroke-width="1.3"/>
<line x1="410.48" y1="200.20" x2="410.48" y2="203.60" stroke="#2b2b2b" stroke-width="1.3"/>
<text x="410.5" y="213.7" font-size="9.1" text-anchor="middle">40</text>
<line x1="429.30" y1="200.20" x2="429.30" y2="202.20" stroke="#2b2b2b" stroke-width="1.3"/>
<line x1="448.12" y1="200.20" x2="448.12" y2="203.60" stroke="#2b2b2b" stroke-width="1.3"/>
<text x="448.1" y="213.7" font-size="9.1" text-anchor="middle">50</text>
<line x1="466.94" y1="200.20" x2="466.94" y2="202.20" stroke="#2b2b2b" stroke-width="1.3"/>
<line x1="485.76" y1="200.20" x2="485.76" y2="203.60" stroke="#2b2b2b" stroke-width="1.3"/>
<text x="485.8" y="213.7" font-size="9.1" text-anchor="middle">60</text>
<line x1="504.58" y1="200.20" x2="504.58" y2="202.20" stroke="#2b2b2b" stroke-width="1.3"/>
<line x1="523.40" y1="200.20" x2="523.40" y2="203.60" stroke="#2b2b2b" stroke-width="1.3"/>
<text x="523.4" y="213.7" font-size="9.1" text-anchor="middle">70</text>
<line x1="542.22" y1="200.20" x2="542.22" y2="202.20" stroke="#2b2b2b" stroke-width="1.3"/>
<text x="430.2" y="225.6" font-size="10" text-anchor="middle">Temperature (K)</text>
<text x="293.0" y="102" font-size="12" text-anchor="middle" transform="rotate(-90 293.0 102)">LIR</text>
<text x="280.9" y="12.6" font-size="12" text-anchor="start">(b)</text>
<polyline points="335.2,185.0 336.2,184.9 337.2,184.8 338.2,184.7 339.2,184.6 340.2,184.5 341.2,184.4 342.2,184.3 343.2,184.2 344.2,184.2 345.2,184.1 346.2,183.9 347.2,183.8 348.2,183.7 349.2,183.6 350.2,183.5 351.2,183.4 352.2,183.3 353.2,183.2 354.2,183.1 355.2,182.9 356.2,182.8 357.2,182.7 358.2,182.6 359.2,182.4 360.2,182.3 361.2,182.2 362.2,182.0 363.2,181.9 364.2,181.7 365.2,181.6 366.2,181.5 367.2,181.3 368.2,181.1 369.2,181.0 370.2,180.8 371.2,180.7 372.2,180.5 373.2,180.3 374.2,180.2 375.2,180.0 376.2,179.8 377.2,179.6 378.2,179.4 379.2,179.2 380.2,179.1 381.2,178.9 382.2,178.7 383.2,178.5 384.2,178.2 385.2,178.0 386.2,177.8 387.2,177.6 388.2,177.4 389.2,177.1 390.2,176.9 391.2,176.7 392.2,176.4 393.2,176.2 394.2,175.9 395.2,175.7 396.2,175.4 397.2,175.1 398.2,174.9 399.2,174.6 400.2,174.3 401.2,174.0 402.2,173.7 403.2,173.4 404.2,173.1 405.2,172.8 406.2,172.5 407.2,172.2 408.2,171.9 409.2,171.5 410.2,171.2 411.2,170.8 412.2,170.5 413.2,170.1 414.2,169.8 415.2,169.4 416.2,169.0 417.2,168.6 418.2,168.2 419.2,167.8 420.2,167.4 421.2,167.0 422.2,166.6 423.2,166.1 424.2,165.7 425.2,165.2 426.2,164.8 427.2,164.3 428.2,163.8 429.2,163.3 430.2,162.8 431.2,162.3 432.2,161.8 433.2,161.3 434.2,160.8 435.2,160.2 436.2,159.7 437.2,159.1 438.2,158.5 439.2,157.9 440.2,157.3 441.2,156.7 442.2,156.1 443.2,155.5 444.2,154.8 445.2,154.2 446.2,153.5 447.2,152.8 448.2,152.1 449.2,151.4 450.2,150.7 451.2,149.9 452.2,149.2 453.2,148.4 454.2,147.6 455.2,146.8 456.2,146.0 457.2,145.2 458.2,144.4 459.2,143.5 460.2,142.6 461.2,141.8 462.2,140.8 463.2,139.9 464.2,139.0 465.2,138.0 466.2,137.0 467.2,136.0 468.2,135.0 469.2,134.0 470.2,132.9 471.2,131.9 472.2,130.8 473.2,129.6 474.2,128.5 475.2,127.4 476.2,126.2 477.2,125.0 478.2,123.7 479.2,122.5 480.2,121.2 481.2,119.9 482.2,118.6 483.2,117.2 484.2,115.9 485.2,114.5 486.2,113.0 487.2,111.6 488.2,110.1 489.2,108.6 490.2,107.1 491.2,105.5 492.2,103.9 493.2,102.3 494.2,100.6 495.2,98.9 496.2,97.2 497.2,95.4 498.2,93.7 499.2,91.8 500.2,90.0 501.2,88.1 502.2,86.1 503.2,84.2 504.2,82.2 505.2,80.1 506.2,78.1 507.2,75.9 508.2,73.8 509.2,71.6 510.2,69.3 511.2,67.0 512.2,64.7 513.2,62.3 514.2,59.9 515.2,57.5 516.2,54.9 517.2,52.4 518.2,49.8 519.2,47.1 520.2,44.4 521.2,41.6 522.2,38.8 523.2,36.0" fill="none" stroke="#f0261c" stroke-width="1.1"/>
<rect x="332.9" y="179.5" width="4.6" height="4.6" fill="#4a4542"/>
<rect x="370.5" y="179.1" width="4.6" height="4.6" fill="#4a4542"/>
<rect x="408.1" y="169.8" width="4.6" height="4.6" fill="#4a4542"/>
<rect x="445.6" y="150.9" width="4.6" height="4.6" fill="#4a4542"/>
<rect x="483.2" y="109.6" width="4.6" height="4.6" fill="#4a4542"/>
<rect x="521.0" y="32.2" width="4.6" height="4.6" fill="#4a4542"/>
<text x="341.8" y="44.4" font-size="10.05" text-anchor="start">LIR = A + B·exp(R<tspan font-size="5.8" dy="3.1">0</tspan><tspan dy="-3.1">T)</tspan></text>
<text x="341.8" y="64.5" font-size="10.05" text-anchor="start">A = 0.16 ± 0.01</text>
<text x="341.8" y="77.6" font-size="10.05" text-anchor="start">B = 0.005 ± 0.001</text>
<text x="341.8" y="91.0" font-size="10.05" text-anchor="start">R<tspan font-size="5.8" dy="3.1">0</tspan><tspan dy="-3.1"> =0.073 ± 0.004</tspan></text>
<text x="341.8" y="105.0" font-size="10.05" text-anchor="start">Adj. R<tspan font-size="6.2" dy="-3.6">2</tspan><tspan dy="3.6"> = 0.999</tspan></text>
</g>
<g id="pc">
<rect x="47.3" y="241.6" width="229.09999999999997" height="183.00000000000003" fill="none" stroke="#2b2b2b" stroke-width="1.3"/>
<line x1="47.30" y1="424.90" x2="45.30" y2="424.90" stroke="#2b2b2b" stroke-width="1.3"/>
<line x1="47.30" y1="410.80" x2="43.90" y2="410.80" stroke="#2b2b2b" stroke-width="1.3"/>
<text x="42.8" y="414.0" font-size="9.5" text-anchor="end">2.364</text>
<line x1="47.30" y1="396.70" x2="45.30" y2="396.70" stroke="#2b2b2b" stroke-width="1.3"/>
<line x1="47.30" y1="382.60" x2="43.90" y2="382.60" stroke="#2b2b2b" stroke-width="1.3"/>
<text x="42.8" y="385.8" font-size="9.5" text-anchor="end">2.366</text>
<line x1="47.30" y1="368.50" x2="45.30" y2="368.50" stroke="#2b2b2b" stroke-width="1.3"/>
<line x1="47.30" y1="354.40" x2="43.90" y2="354.40" stroke="#2b2b2b" stroke-width="1.3"/>
<text x="42.8" y="357.6" font-size="9.5" text-anchor="end">2.368</text>
<line x1="47.30" y1="340.30" x2="45.30" y2="340.30" stroke="#2b2b2b" stroke-width="1.3"/>
<line x1="47.30" y1="326.20" x2="43.90" y2="326.20" stroke="#2b2b2b" stroke-width="1.3"/>
<text x="42.8" y="329.4" font-size="9.5" text-anchor="end">2.370</text>
<line x1="47.30" y1="312.10" x2="45.30" y2="312.10" stroke="#2b2b2b" stroke-width="1.3"/>
<line x1="47.30" y1="298.00" x2="43.90" y2="298.00" stroke="#2b2b2b" stroke-width="1.3"/>
<text x="42.8" y="301.2" font-size="9.5" text-anchor="end">2.372</text>
<line x1="47.30" y1="283.90" x2="45.30" y2="283.90" stroke="#2b2b2b" stroke-width="1.3"/>
<line x1="47.30" y1="269.80" x2="43.90" y2="269.80" stroke="#2b2b2b" stroke-width="1.3"/>
<text x="42.8" y="273.0" font-size="9.5" text-anchor="end">2.374</text>
<line x1="47.30" y1="255.70" x2="45.30" y2="255.70" stroke="#2b2b2b" stroke-width="1.3"/>
<line x1="47.30" y1="241.60" x2="43.90" y2="241.60" stroke="#2b2b2b" stroke-width="1.3"/>
<text x="42.8" y="244.8" font-size="9.5" text-anchor="end">2.376</text>
<line x1="47.25" y1="424.60" x2="47.25" y2="426.60" stroke="#2b2b2b" stroke-width="1.3"/>
<line x1="66.30" y1="424.60" x2="66.30" y2="428.00" stroke="#2b2b2b" stroke-width="1.3"/>
<text x="66.3" y="437.8" font-size="9.0" text-anchor="middle">20</text>
<line x1="85.35" y1="424.60" x2="85.35" y2="426.60" stroke="#2b2b2b" stroke-width="1.3"/>
<line x1="104.40" y1="424.60" x2="104.40" y2="428.00" stroke="#2b2b2b" stroke-width="1.3"/>
<text x="104.4" y="437.8" font-size="9.0" text-anchor="middle">30</text>
<line x1="123.45" y1="424.60" x2="123.45" y2="426.60" stroke="#2b2b2b" stroke-width="1.3"/>
<line x1="142.50" y1="424.60" x2="142.50" y2="428.00" stroke="#2b2b2b" stroke-width="1.3"/>
<text x="142.5" y="437.8" font-size="9.0" text-anchor="middle">40</text>
<line x1="161.55" y1="424.60" x2="161.55" y2="426.60" stroke="#2b2b2b" stroke-width="1.3"/>
<line x1="180.60" y1="424.60" x2="180.60" y2="428.00" stroke="#2b2b2b" stroke-width="1.3"/>
<text x="180.6" y="437.8" font-size="9.0" text-anchor="middle">50</text>
<line x1="199.65" y1="424.60" x2="199.65" y2="426.60" stroke="#2b2b2b" stroke-width="1.3"/>
<line x1="218.70" y1="424.60" x2="218.70" y2="428.00" stroke="#2b2b2b" stroke-width="1.3"/>
<text x="218.7" y="437.8" font-size="9.0" text-anchor="middle">60</text>
<line x1="237.75" y1="424.60" x2="237.75" y2="426.60" stroke="#2b2b2b" stroke-width="1.3"/>
<line x1="256.80" y1="424.60" x2="256.80" y2="428.00" stroke="#2b2b2b" stroke-width="1.3"/>
<text x="256.8" y="437.8" font-size="9.0" text-anchor="middle">70</text>
<line x1="275.85" y1="424.60" x2="275.85" y2="426.60" stroke="#2b2b2b" stroke-width="1.3"/>
<text x="171.6" y="450.5" font-size="12.1" text-anchor="middle">Temperature (K)</text>
<text x="15.8" y="327.8" font-size="12" text-anchor="middle" transform="rotate(-90 15.8 327.8)">Position (eV)</text>
<text x="3.8" y="243.7" font-size="12" text-anchor="start">(c)</text>
<line x1="66.30" y1="250.10" x2="257.90" y2="403.00" stroke="#f0261c" stroke-width="1.1"/>
<rect x="64.0" y="259.4" width="4.6" height="4.6" fill="#4a4542"/>
<rect x="102.1" y="275.3" width="4.6" height="4.6" fill="#4a4542"/>
<rect x="140.2" y="298.7" width="4.6" height="4.6" fill="#4a4542"/>
<rect x="178.7" y="331.3" width="4.6" height="4.6" fill="#4a4542"/>
<rect x="217.0" y="371.9" width="4.6" height="4.6" fill="#4a4542"/>
<rect x="255.0" y="409.5" width="4.6" height="4.6" fill="#4a4542"/>
<text x="71.2" y="345.3" font-size="10.05" text-anchor="start">y = a+b·T</text>
<text x="71.2" y="372.9" font-size="10.05" text-anchor="start">a = 2.3797 ± 0.0008</text>
<text x="71.2" y="385.9" font-size="10.05" text-anchor="start">b = −0.00022 ± 0.00002</text>
<text x="71.2" y="398.9" font-size="10.05" text-anchor="start">Adj. R<tspan font-size="6.2" dy="-3.6">2</tspan><tspan dy="3.6"> = 0.971</tspan></text>
</g>
<g id="pd">
<rect x="327.5" y="241.6" width="215.70000000000005" height="183.00000000000003" fill="none" stroke="#2b2b2b" stroke-width="1.3"/>
<line x1="327.50" y1="424.60" x2="324.10" y2="424.60" stroke="#2b2b2b" stroke-width="1.3"/>
<text x="322.0" y="427.6" font-size="9.0" text-anchor="end">0.0020</text>
<line x1="327.50" y1="410.12" x2="325.50" y2="410.12" stroke="#2b2b2b" stroke-width="1.3"/>
<line x1="327.50" y1="395.65" x2="324.10" y2="395.65" stroke="#2b2b2b" stroke-width="1.3"/>
<text x="322.0" y="398.7" font-size="9.0" text-anchor="end">0.0025</text>
<line x1="327.50" y1="381.18" x2="325.50" y2="381.18" stroke="#2b2b2b" stroke-width="1.3"/>
<line x1="327.50" y1="366.70" x2="324.10" y2="366.70" stroke="#2b2b2b" stroke-width="1.3"/>
<text x="322.0" y="369.7" font-size="9.0" text-anchor="end">0.0030</text>
<line x1="327.50" y1="352.23" x2="325.50" y2="352.23" stroke="#2b2b2b" stroke-width="1.3"/>
<line x1="327.50" y1="337.75" x2="324.10" y2="337.75" stroke="#2b2b2b" stroke-width="1.3"/>
<text x="322.0" y="340.8" font-size="9.0" text-anchor="end">0.0035</text>
<line x1="327.50" y1="323.28" x2="325.50" y2="323.28" stroke="#2b2b2b" stroke-width="1.3"/>
<line x1="327.50" y1="308.80" x2="324.10" y2="308.80" stroke="#2b2b2b" stroke-width="1.3"/>
<text x="322.0" y="311.8" font-size="9.0" text-anchor="end">0.0040</text>
<line x1="327.50" y1="294.33" x2="325.50" y2="294.33" stroke="#2b2b2b" stroke-width="1.3"/>
<line x1="327.50" y1="279.85" x2="324.10" y2="279.85" stroke="#2b2b2b" stroke-width="1.3"/>
<text x="322.0" y="282.9" font-size="9.0" text-anchor="end">0.0045</text>
<line x1="327.50" y1="265.38" x2="325.50" y2="265.38" stroke="#2b2b2b" stroke-width="1.3"/>
<line x1="327.50" y1="250.90" x2="324.10" y2="250.90" stroke="#2b2b2b" stroke-width="1.3"/>
<text x="322.0" y="253.9" font-size="9.0" text-anchor="end">0.0050</text>
<line x1="326.80" y1="424.60" x2="326.80" y2="426.60" stroke="#2b2b2b" stroke-width="1.3"/>
<line x1="344.80" y1="424.60" x2="344.80" y2="428.00" stroke="#2b2b2b" stroke-width="1.3"/>
<text x="344.8" y="437.8" font-size="9.0" text-anchor="middle">20</text>
<line x1="362.80" y1="424.60" x2="362.80" y2="426.60" stroke="#2b2b2b" stroke-width="1.3"/>
<line x1="380.80" y1="424.60" x2="380.80" y2="428.00" stroke="#2b2b2b" stroke-width="1.3"/>
<text x="380.8" y="437.8" font-size="9.0" text-anchor="middle">30</text>
<line x1="398.80" y1="424.60" x2="398.80" y2="426.60" stroke="#2b2b2b" stroke-width="1.3"/>
<line x1="416.80" y1="424.60" x2="416.80" y2="428.00" stroke="#2b2b2b" stroke-width="1.3"/>
<text x="416.8" y="437.8" font-size="9.0" text-anchor="middle">40</text>
<line x1="434.80" y1="424.60" x2="434.80" y2="426.60" stroke="#2b2b2b" stroke-width="1.3"/>
<line x1="452.80" y1="424.60" x2="452.80" y2="428.00" stroke="#2b2b2b" stroke-width="1.3"/>
<text x="452.8" y="437.8" font-size="9.0" text-anchor="middle">50</text>
<line x1="470.80" y1="424.60" x2="470.80" y2="426.60" stroke="#2b2b2b" stroke-width="1.3"/>
<line x1="488.80" y1="424.60" x2="488.80" y2="428.00" stroke="#2b2b2b" stroke-width="1.3"/>
<text x="488.8" y="437.8" font-size="9.0" text-anchor="middle">60</text>
<line x1="506.80" y1="424.60" x2="506.80" y2="426.60" stroke="#2b2b2b" stroke-width="1.3"/>
<line x1="524.80" y1="424.60" x2="524.80" y2="428.00" stroke="#2b2b2b" stroke-width="1.3"/>
<text x="524.8" y="437.8" font-size="9.0" text-anchor="middle">70</text>
<line x1="542.80" y1="424.60" x2="542.80" y2="426.60" stroke="#2b2b2b" stroke-width="1.3"/>
<text x="446.5" y="450.6" font-size="12.1" text-anchor="middle">Temperature (K)</text>
<text x="290.2" y="325.2" font-size="12" text-anchor="middle" transform="rotate(-90 290.2 325.2)">FWHM (eV)</text>
<text x="280.9" y="241.4" font-size="12" text-anchor="start">(d)</text>
<polyline points="344.8,411.1 345.8,411.1 346.8,411.0 347.8,410.9 348.8,410.9 349.8,410.8 350.8,410.7 351.8,410.6 352.8,410.6 353.8,410.5 354.8,410.4 355.8,410.3 356.8,410.3 357.8,410.2 358.8,410.1 359.8,410.0 360.8,409.9 361.8,409.8 362.8,409.7 363.8,409.6 364.8,409.5 365.8,409.4 366.8,409.3 367.8,409.2 368.8,409.1 369.8,409.0 370.8,408.9 371.8,408.8 372.8,408.7 373.8,408.6 374.8,408.4 375.8,408.3 376.8,408.2 377.8,408.1 378.8,407.9 379.8,407.8 380.8,407.6 381.8,407.5 382.8,407.4 383.8,407.2 384.8,407.1 385.8,406.9 386.8,406.8 387.8,406.6 388.8,406.4 389.8,406.3 390.8,406.1 391.8,405.9 392.8,405.7 393.8,405.6 394.8,405.4 395.8,405.2 396.8,405.0 397.8,404.8 398.8,404.6 399.8,404.4 400.8,404.2 401.8,404.0 402.8,403.7 403.8,403.5 404.8,403.3 405.8,403.0 406.8,402.8 407.8,402.6 408.8,402.3 409.8,402.1 410.8,401.8 411.8,401.5 412.8,401.2 413.8,401.0 414.8,400.7 415.8,400.4 416.8,400.1 417.8,399.8 418.8,399.5 419.8,399.2 420.8,398.8 421.8,398.5 422.8,398.2 423.8,397.8 424.8,397.5 425.8,397.1 426.8,396.7 427.8,396.3 428.8,396.0 429.8,395.6 430.8,395.2 431.8,394.7 432.8,394.3 433.8,393.9 434.8,393.5 435.8,393.0 436.8,392.5 437.8,392.1 438.8,391.6 439.8,391.1 440.8,390.6 441.8,390.1 442.8,389.6 443.8,389.0 444.8,388.5 445.8,387.9 446.8,387.4 447.8,386.8 448.8,386.2 449.8,385.6 450.8,385.0 451.8,384.3 452.8,383.7 453.8,383.0 454.8,382.3 455.8,381.6 456.8,380.9 457.8,380.2 458.8,379.5 459.8,378.7 460.8,378.0 461.8,377.2 462.8,376.4 463.8,375.5 464.8,374.7 465.8,373.8 466.8,373.0 467.8,372.1 468.8,371.2 469.8,370.2 470.8,369.3 471.8,368.3 472.8,367.3 473.8,366.3 474.8,365.2 475.8,364.2 476.8,363.1 477.8,362.0 478.8,360.8 479.8,359.7 480.8,358.5 481.8,357.3 482.8,356.0 483.8,354.8 484.8,353.5 485.8,352.2 486.8,350.8 487.8,349.4 488.8,348.0 489.8,346.6 490.8,345.1 491.8,343.6 492.8,342.1 493.8,340.5 494.8,338.9 495.8,337.3 496.8,335.6 497.8,333.9 498.8,332.2 499.8,330.4 500.8,328.5 501.8,326.7 502.8,324.8 503.8,322.8 504.8,320.8 505.8,318.8 506.8,316.7 507.8,314.6 508.8,312.5 509.8,310.2 510.8,308.0 511.8,305.7 512.8,303.3 513.8,300.9 514.8,298.4 515.8,295.9 516.8,293.3 517.8,290.7 518.8,288.0 519.8,285.3 520.8,282.5 521.8,279.6 522.8,276.7 523.8,273.7 524.8,270.6" fill="none" stroke="#f0261c" stroke-width="1.1"/>
<rect x="342.5" y="409.1" width="4.6" height="4.6" fill="#4a4542"/>
<rect x="378.5" y="405.3" width="4.6" height="4.6" fill="#4a4542"/>
<rect x="414.5" y="402.8" width="4.6" height="4.6" fill="#4a4542"/>
<rect x="450.6" y="374.9" width="4.6" height="4.6" fill="#4a4542"/>
<rect x="486.5" y="351.9" width="4.6" height="4.6" fill="#4a4542"/>
<rect x="522.5" y="264.5" width="4.6" height="4.6" fill="#4a4542"/>
<text x="341.8" y="263.6" font-size="10.05" text-anchor="start">FWHM = A + B·exp(R<tspan font-size="5.8" dy="3.1">0</tspan><tspan dy="-3.1">T)</tspan></text>
<text x="341.8" y="283.7" font-size="10.05" text-anchor="start">A = 0.0022 ± 0.0001</text>
<text x="341.8" y="296.7" font-size="10.05" text-anchor="start">B = 8 ± 4</text>
<text x="341.8" y="310.8" font-size="10.05" text-anchor="start">R<tspan font-size="5.8" dy="3.1">0</tspan><tspan dy="-3.1"> =0.08 ± 0.01</tspan></text>
<text x="341.8" y="324.6" font-size="10.05" text-anchor="start">Adj. R<tspan font-size="6.2" dy="-3.6">2</tspan><tspan dy="3.6"> = 0.989</tspan></text>
</g>
</svg>
</body></html>
